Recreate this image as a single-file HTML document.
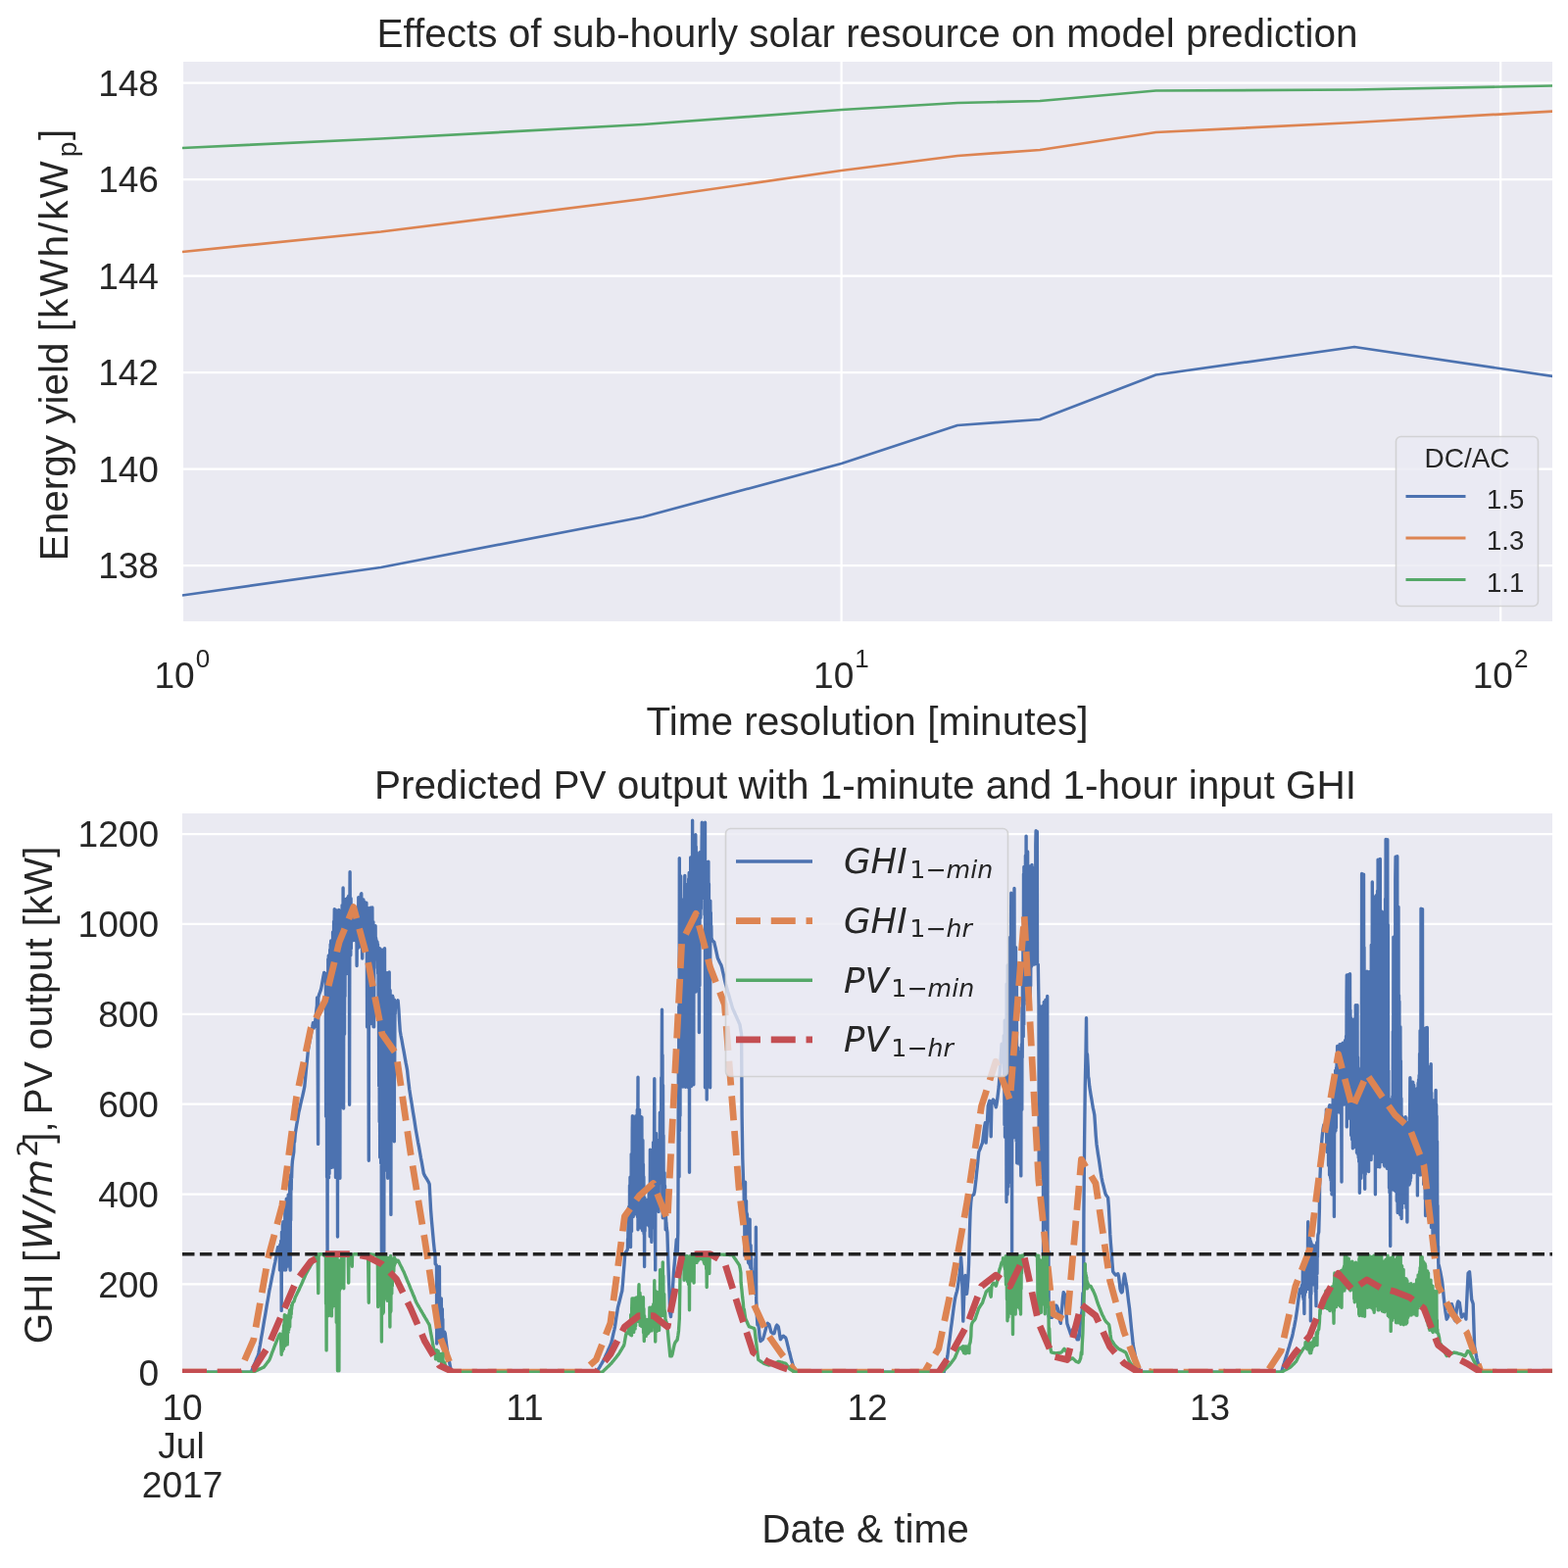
<!DOCTYPE html>
<html lang="en"><head><meta charset="utf-8"><title>Effects of sub-hourly solar resource on model prediction</title>
<style>html,body{margin:0;padding:0;background:#fff}body{width:1600px;height:1600px;overflow:hidden}svg{display:block;filter:blur(0.6px)}text{font-family:"Liberation Sans",sans-serif;fill:#262626}.m{font-family:"DejaVu Sans",sans-serif;font-style:italic}.r{font-family:"DejaVu Sans",sans-serif;font-style:normal}</style></head><body>
<svg width="1600" height="1600" viewBox="0 0 1600 1600">
<defs><clipPath id="ct"><rect x="186" y="63" width="1398" height="571"/></clipPath>
<clipPath id="cb"><rect x="186" y="830" width="1398" height="571"/></clipPath></defs>
<rect width="1600" height="1600" fill="#fff"/>
<rect x="186" y="63" width="1398" height="571" fill="#eaeaf2"/>
<g stroke="#fff" stroke-width="2.25" clip-path="url(#ct)">
<line x1="186" x2="1584" y1="577.00" y2="577.00"/>
<line x1="186" x2="1584" y1="478.50" y2="478.50"/>
<line x1="186" x2="1584" y1="380.00" y2="380.00"/>
<line x1="186" x2="1584" y1="281.50" y2="281.50"/>
<line x1="186" x2="1584" y1="183.00" y2="183.00"/>
<line x1="186" x2="1584" y1="84.50" y2="84.50"/>
<line x1="186.00" x2="186.00" y1="63" y2="634"/>
<line x1="858.60" x2="858.60" y1="63" y2="634"/>
<line x1="1531.20" x2="1531.20" y1="63" y2="634"/>
</g>
<g fill="none" stroke-width="2.7" stroke-linejoin="round" clip-path="url(#ct)">
<polyline stroke="#4c72b0" points="186.0,607.5 388.5,579.0 656.1,527.5 858.6,473.0 977.0,434.0 1061.1,428.0 1179.5,382.5 1382.0,354.0 1584.5,384.0"/>
<polyline stroke="#dd8452" points="186.0,257.0 388.5,236.5 656.1,203.0 858.6,174.0 977.0,159.0 1061.1,153.0 1179.5,135.0 1382.0,125.0 1584.5,113.5"/>
<polyline stroke="#55a868" points="186.0,151.0 388.5,141.5 656.1,127.0 858.6,112.0 977.0,105.0 1061.1,103.0 1179.5,92.5 1382.0,91.5 1584.5,87.5"/>
</g>
<g font-size="37.1" text-anchor="end">
<text transform="translate(162,590.4) scale(1,1)">138</text>
<text transform="translate(162,491.9) scale(1,1)">140</text>
<text transform="translate(162,393.4) scale(1,1)">142</text>
<text transform="translate(162,294.9) scale(1,1)">144</text>
<text transform="translate(162,196.4) scale(1,1)">146</text>
<text transform="translate(162,97.9) scale(1,1)">148</text>
</g>
<g font-size="37.1">
<text transform="translate(157.5,702) scale(1,1)">10<tspan dx="1" dy="-21" font-size="26">0</tspan></text>
<text transform="translate(830.1,702) scale(1,1)">10<tspan dx="1" dy="-21" font-size="26">1</tspan></text>
<text transform="translate(1502.7,702) scale(1,1)">10<tspan dx="1" dy="-21" font-size="26">2</tspan></text>
</g>
<text x="885" y="48" font-size="40.5" text-anchor="middle">Effects of sub-hourly solar resource on model prediction</text>
<text x="885" y="750.4" font-size="40.5" text-anchor="middle">Time resolution [minutes]</text>
<text transform="translate(68.5,572.3) rotate(-90)" font-size="40.5">Energy yield <tspan letter-spacing="2">[kWh/kW</tspan><tspan dx="2" dy="9" font-size="28.4" letter-spacing="1.5">p</tspan><tspan dy="-9">]</tspan></text>
<rect x="1424.5" y="445.5" width="145" height="173" rx="5" ry="5" fill="#eaeaf2" fill-opacity="0.8" stroke="#ccc" stroke-opacity="0.8" stroke-width="1.6"/>
<text x="1497" y="477.3" font-size="28" text-anchor="middle">DC/AC</text>
<line x1="1434.5" x2="1495.5" y1="506.5" y2="506.5" stroke="#4c72b0" stroke-width="3.1"/>
<text x="1517" y="518.5" font-size="27.5">1.5</text>
<line x1="1434.5" x2="1495.5" y1="549.0" y2="549.0" stroke="#dd8452" stroke-width="3.1"/>
<text x="1517" y="561.0" font-size="27.5">1.3</text>
<line x1="1434.5" x2="1495.5" y1="591.5" y2="591.5" stroke="#55a868" stroke-width="3.1"/>
<text x="1517" y="603.5" font-size="27.5">1.1</text>
<rect x="186" y="830" width="1398" height="571" fill="#eaeaf2"/>
<g stroke="#fff" stroke-width="2.25" clip-path="url(#cb)">
<line x1="186" x2="1584" y1="1310.42" y2="1310.42"/>
<line x1="186" x2="1584" y1="1218.54" y2="1218.54"/>
<line x1="186" x2="1584" y1="1126.66" y2="1126.66"/>
<line x1="186" x2="1584" y1="1034.78" y2="1034.78"/>
<line x1="186" x2="1584" y1="942.90" y2="942.90"/>
<line x1="186" x2="1584" y1="851.02" y2="851.02"/>
</g>
<g fill="none" stroke-linejoin="round" clip-path="url(#cb)">
<path d="M186.0,1400.2 255.9,1400.2 256.6,1399.3 257.4,1397.5 258.1,1395.7 258.8,1393.9 259.5,1392.2 260.3,1390.4 261.0,1388.6 261.7,1386.8 262.5,1385.0 263.2,1383.3 263.9,1380.9 264.6,1376.7 265.4,1372.5 266.1,1368.2 266.8,1364.0 267.6,1359.7 268.3,1355.5 269.0,1351.2 269.7,1347.0 270.5,1342.7 271.2,1338.5 271.9,1334.2 272.6,1330.0 273.4,1325.7 274.1,1321.5 274.8,1317.2 275.6,1313.5 276.3,1309.8 277.0,1306.2 277.7,1302.5 278.5,1298.9 279.2,1295.2 279.9,1291.6 280.7,1288.0 281.4,1284.3 282.1,1280.7 282.8,1276.8 283.6,1272.6 284.3,1273.7 285.0,1274.1 285.3,1272.8 285.5,1296.0 285.8,1270.0 286.0,1279.6 286.2,1274.5 286.5,1287.4 286.7,1266.1 287.0,1288.6 287.2,1337.4 287.5,1257.1 287.7,1289.5 287.9,1261.3 288.2,1279.0 288.4,1249.7 288.7,1293.4 288.9,1246.8 289.2,1275.9 289.4,1256.0 289.6,1295.9 289.9,1267.0 290.1,1263.8 290.4,1249.3 290.6,1282.1 290.9,1234.1 291.1,1296.0 291.3,1239.2 291.6,1295.9 291.8,1227.9 292.1,1293.5 292.3,1223.3 292.5,1286.4 292.8,1227.4 293.0,1262.9 293.3,1227.3 293.5,1276.1 293.8,1223.6 294.0,1273.8 294.2,1219.0 294.5,1291.9 294.7,1251.1 295.0,1241.8 295.2,1236.0 295.5,1267.7 295.7,1205.1 295.9,1292.9 296.2,1296.0 296.4,1198.9 296.7,1245.3 296.9,1202.8 297.2,1214.0 297.4,1197.3 297.6,1202.4 297.9,1191.9 298.1,1188.8 298.4,1184.8 299.1,1180.0 299.8,1175.6 300.1,1165.4 300.6,1165.2 301.3,1156.7 302.0,1152.3 302.7,1147.9 303.5,1143.6 304.2,1139.2 304.9,1134.8 305.7,1131.5 306.4,1128.4 307.1,1125.2 307.8,1122.1 308.6,1118.9 309.3,1115.8 310.0,1112.6 310.8,1108.7 311.5,1101.3 312.2,1093.9 312.9,1086.5 313.7,1079.1 314.4,1071.8 315.1,1067.7 315.8,1063.7 316.6,1059.7 317.3,1055.7 318.0,1051.6 318.8,1047.6 319.5,1043.6 320.2,1049.1 320.9,1045.1 321.2,1044.4 321.4,1042.3 321.7,1047.2 321.9,1039.8 322.2,1038.2 322.4,1034.8 323.1,1028.6 323.4,1026.6 323.6,1017.9 323.9,1022.5 324.6,1167.4 324.8,1018.2 325.6,1014.9 326.3,1013.0 327.0,1011.2 327.7,1008.7 328.5,1004.6 329.2,1000.6 329.9,996.5 330.7,992.5 331.4,998.0 332.1,994.0 332.4,993.4 332.6,1139.2 332.8,1032.7 333.1,1130.8 333.3,995.2 333.6,1201.3 333.8,995.6 334.1,1277.0 334.3,1083.4 334.5,1125.2 334.8,978.6 335.0,1194.0 335.3,975.0 335.5,1201.8 335.8,1044.3 336.0,1197.8 336.2,1004.5 336.5,1173.9 336.7,969.0 337.0,1125.4 337.2,963.6 337.4,1142.0 337.7,959.9 337.9,1176.2 338.2,960.6 338.4,1191.4 338.7,1069.8 338.9,1104.6 339.1,960.3 339.4,1082.3 339.6,951.0 339.9,1178.1 340.1,1037.0 340.4,1137.5 340.6,940.2 340.8,1046.6 341.1,941.7 341.3,927.6 341.6,1191.4 341.8,1011.8 342.1,1184.5 342.3,940.6 342.5,1201.4 342.8,928.7 343.0,1146.2 343.3,934.8 343.5,1142.4 343.8,944.8 344.0,1168.1 344.2,1052.4 344.5,1262.1 344.7,956.6 345.0,1147.2 345.2,1028.8 345.5,1196.7 345.7,928.5 345.9,1064.6 346.2,1017.2 346.4,1189.2 346.7,930.1 346.9,1202.2 347.2,981.5 347.4,1021.8 347.6,929.2 347.9,1019.5 348.1,1005.3 348.4,1086.0 348.6,943.5 348.9,1129.7 349.1,923.6 349.3,1015.0 349.6,927.4 349.8,1068.2 350.1,905.9 350.3,1122.5 350.6,1131.0 350.8,979.4 351.0,1053.9 351.3,920.7 351.5,1055.2 351.8,945.9 352.0,1016.8 352.3,917.8 352.5,978.9 352.7,944.0 353.0,975.9 353.2,918.8 353.5,954.2 353.7,917.3 354.0,993.5 354.2,918.5 354.4,984.2 354.7,915.9 354.9,992.1 355.2,921.0 355.4,978.1 355.7,914.3 355.9,987.1 356.1,943.9 356.4,945.3 356.6,1127.2 356.9,926.8 357.1,889.7 357.4,962.6 357.6,924.9 357.8,974.7 358.1,916.8 358.3,967.9 358.6,938.1 358.8,948.9 359.1,939.1 359.3,959.7 359.5,929.0 359.8,954.4 360.0,931.5 360.3,957.4 360.5,940.5 360.8,959.6 361.0,927.0 361.2,947.2 361.5,936.8 361.7,947.2 362.0,930.8 362.2,945.1 362.4,936.9 362.7,956.8 362.9,929.2 363.2,940.7 363.4,935.9 363.7,961.1 363.9,934.1 364.1,985.5 364.4,938.6 364.6,963.8 364.9,928.0 365.1,967.7 365.4,925.5 365.6,959.0 365.8,915.6 366.1,957.5 366.3,942.7 366.6,944.9 366.8,929.3 367.1,966.1 367.3,929.1 367.5,959.5 367.8,918.5 368.0,946.5 368.3,912.4 368.5,951.4 368.8,911.7 369.0,957.9 369.2,918.4 369.5,964.2 369.7,978.1 370.0,925.2 370.2,953.0 370.5,923.5 370.7,937.4 370.9,917.9 371.2,959.7 371.4,919.9 371.7,948.4 371.9,920.3 372.2,959.1 372.4,936.3 372.6,949.4 372.9,924.4 373.1,941.1 373.4,922.7 373.6,949.3 373.9,921.3 374.1,955.4 374.3,933.3 374.6,1047.9 374.8,936.9 375.1,950.4 375.3,926.4 375.6,1001.2 375.8,926.8 376.0,1046.5 376.3,1184.3 376.5,936.3 376.8,994.5 377.0,967.1 377.3,1009.8 377.5,979.4 377.7,1042.2 378.0,926.3 378.2,1032.9 378.5,930.6 378.7,1044.5 379.0,937.7 379.2,1019.7 379.4,943.4 379.7,1040.9 379.9,926.0 380.2,1000.0 380.4,990.2 380.7,1034.4 380.9,940.6 381.1,1047.8 381.4,983.1 381.6,1047.9 381.9,945.5 382.1,987.9 382.4,954.3 382.6,977.1 382.8,958.7 383.1,944.8 383.3,978.9 383.6,956.9 383.8,976.5 384.1,959.4 384.3,971.0 384.5,960.8 384.8,978.7 385.0,961.1 385.3,974.8 385.5,963.6 385.7,993.4 386.0,980.1 386.2,1037.3 386.5,1038.0 386.7,1108.3 387.0,967.7 387.2,1144.7 387.4,967.6 387.7,1181.1 387.9,989.2 388.2,1120.6 388.4,968.8 388.7,1187.0 388.9,979.7 389.1,1138.7 389.4,1277.2 389.6,1001.9 389.9,1177.3 390.1,1047.4 390.4,1231.3 390.6,1061.6 390.8,1124.6 391.1,969.0 391.3,1115.9 391.6,1048.9 391.8,1277.2 392.1,973.0 392.3,1195.2 392.5,967.8 392.8,1148.9 393.0,1070.0 393.3,1183.1 393.5,1015.5 393.8,1099.6 394.0,1052.2 394.2,1085.4 394.5,1008.6 394.7,1147.4 395.0,992.7 395.2,1135.8 395.5,1061.2 395.7,1202.2 395.9,1031.7 396.2,1116.7 396.4,998.7 396.7,1082.6 396.9,1077.4 397.2,992.0 397.4,1069.6 397.6,1023.4 397.9,1103.1 398.1,1010.4 398.4,1084.7 398.6,1063.7 398.9,1239.4 399.1,1018.0 399.3,1164.1 399.6,1026.6 399.8,1137.2 400.1,1059.2 400.3,1143.5 400.6,1016.2 400.8,1106.6 401.0,1017.4 401.3,1108.3 401.5,1020.3 401.8,1154.9 402.0,1063.4 402.3,1164.8 402.5,1020.3 402.7,1088.8 403.0,1025.8 403.2,1034.8 403.5,1024.7 403.7,1027.5 404.0,1023.9 404.2,1024.6 404.4,1021.9 404.7,1021.7 405.4,1024.3 406.1,1020.8 406.9,1030.5 407.6,1042.5 408.3,1052.3 409.0,1056.3 409.8,1060.3 410.5,1064.3 411.2,1068.3 412.0,1072.4 412.7,1076.4 413.4,1080.4 414.1,1084.4 414.9,1088.4 415.6,1092.4 416.3,1099.1 417.1,1105.9 417.8,1111.8 418.5,1116.3 419.2,1120.9 420.0,1125.4 420.7,1130.0 421.4,1134.5 422.2,1139.1 422.9,1143.6 423.6,1148.2 424.3,1152.7 425.1,1157.2 425.8,1161.3 426.5,1165.3 427.3,1169.3 428.0,1173.3 428.7,1177.3 429.4,1181.3 430.2,1185.3 430.9,1189.3 431.6,1193.3 432.3,1197.3 433.1,1199.1 433.8,1200.3 434.5,1201.5 435.3,1202.7 436.0,1203.9 436.7,1205.2 437.4,1206.4 438.2,1208.4 438.9,1221.5 439.6,1234.6 440.4,1245.0 441.1,1252.7 441.8,1260.4 442.5,1268.1 443.3,1275.8 444.0,1279.9 444.2,1289.7 445.0,1290.4 445.2,1290.7 445.5,1292.5 445.7,1371.0 445.9,1292.0 446.2,1320.4 446.4,1293.8 446.7,1331.8 446.9,1306.7 447.2,1358.1 447.4,1320.7 447.6,1356.3 447.9,1297.1 448.1,1364.5 448.4,1292.4 448.6,1341.6 448.9,1332.1 449.1,1369.4 449.3,1333.2 449.6,1339.5 449.8,1325.4 450.1,1361.2 450.3,1324.9 450.6,1363.4 450.8,1335.0 451.0,1362.6 451.3,1335.6 451.5,1352.7 451.8,1346.0 452.0,1364.5 452.3,1371.0 452.5,1358.7 452.7,1358.9 453.5,1358.9 454.2,1360.4 454.9,1366.2 455.6,1372.1 456.4,1377.9 457.1,1383.0 457.8,1386.6 458.6,1390.1 459.3,1393.7 460.0,1397.2 460.7,1400.2 608.6,1400.2 609.3,1399.3 610.0,1398.1 610.7,1396.8 611.5,1395.6 612.2,1394.4 612.9,1393.1 613.7,1391.9 614.4,1390.7 615.1,1389.4 615.8,1388.2 616.6,1386.8 617.3,1385.2 618.0,1383.5 618.7,1381.9 619.5,1380.2 620.2,1378.6 620.9,1377.0 621.7,1375.3 622.4,1373.7 623.1,1372.0 623.8,1370.2 624.6,1366.9 625.3,1363.6 626.0,1360.4 626.8,1357.1 627.5,1353.8 628.2,1349.0 628.9,1344.1 629.7,1339.3 630.4,1334.7 631.1,1331.7 631.9,1328.8 632.6,1325.9 633.3,1323.0 634.0,1320.1 634.8,1317.2 635.5,1309.6 636.2,1299.9 637.0,1290.2 637.7,1280.5 638.4,1277.6 639.1,1277.2 639.9,1275.9 640.1,1275.4 640.4,1274.2 640.6,1264.0 640.8,1268.2 641.1,1245.2 641.3,1266.8 641.6,1231.5 641.8,1243.2 642.0,1236.7 642.3,1269.4 642.5,1209.6 642.8,1271.1 643.0,1201.2 643.3,1237.3 643.5,1272.5 643.7,1215.7 644.0,1251.0 644.2,1177.6 644.5,1256.4 644.7,1180.8 645.0,1204.8 645.2,1153.6 645.4,1138.6 645.7,1209.6 645.9,1139.6 646.2,1241.6 646.4,1141.7 646.7,1211.2 646.9,1143.8 647.1,1232.1 647.4,1157.6 647.6,1239.1 647.9,1164.9 648.1,1238.9 648.4,1150.5 648.6,1235.9 648.8,1138.6 649.1,1222.4 649.3,1146.0 649.6,1231.0 649.8,1143.4 650.1,1223.7 650.3,1132.3 650.5,1241.7 650.8,1151.0 651.0,1099.2 651.0,1254.8 651.3,1217.9 651.5,1142.7 651.8,1196.7 652.0,1150.6 652.2,1198.5 652.5,1132.5 652.7,1213.7 653.0,1171.7 653.2,1194.8 653.5,1139.1 653.7,1248.3 653.9,1186.5 654.2,1253.0 654.4,1196.7 654.7,1200.9 654.9,1139.9 655.2,1254.4 655.4,1177.6 655.6,1255.7 655.9,1163.4 656.1,1224.0 656.4,1188.0 656.6,1236.0 656.9,1200.7 657.1,1259.2 657.3,1224.9 657.6,1292.6 657.8,1222.1 658.1,1256.2 658.3,1231.1 658.6,1238.1 658.8,1236.1 659.0,1249.5 659.3,1227.3 659.5,1240.9 659.8,1227.3 660.0,1242.5 660.3,1224.5 660.5,1249.7 660.7,1224.1 661.0,1249.7 661.2,1227.9 661.5,1245.6 661.7,1228.2 662.0,1249.6 662.2,1214.0 662.4,1251.3 662.7,1219.7 662.9,1219.8 663.2,1261.8 663.4,1173.1 663.6,1216.6 663.9,1176.7 664.1,1259.9 664.4,1213.7 664.6,1250.5 664.9,1267.4 665.1,1197.9 665.3,1253.2 665.6,1180.1 665.8,1243.0 666.1,1177.0 666.3,1236.1 666.6,1165.6 666.8,1227.1 667.0,1191.2 667.3,1253.0 667.5,1166.6 667.8,1100.8 668.0,1222.6 668.3,1164.6 668.5,1252.6 668.7,1295.9 669.0,1157.8 669.2,1234.3 669.5,1156.5 669.7,1203.4 670.0,1185.0 670.2,1217.9 670.4,1188.4 670.7,1221.3 670.9,1163.4 671.2,1221.9 671.4,1167.1 671.7,1191.6 671.9,1183.5 672.1,1236.5 672.4,1186.8 672.6,1207.8 672.9,1168.5 673.1,1196.8 673.4,1135.2 673.6,1182.1 673.8,1162.9 674.1,1201.6 674.3,1141.8 674.6,1189.0 674.8,1099.4 675.1,1190.6 675.3,1073.1 675.5,1030.2 675.8,1229.3 676.0,1076.5 676.3,1242.8 676.5,1107.2 676.8,1212.9 677.0,1158.5 677.2,1240.7 677.5,1206.5 677.7,1229.0 678.0,1196.6 678.2,1231.8 678.5,1210.0 678.7,1238.0 678.9,1219.3 679.2,1254.8 679.4,1240.0 679.7,1247.0 679.9,1247.5 680.2,1252.6 680.9,1257.4 681.6,1279.9 682.3,1300.9 683.1,1320.9 683.6,1339.9 683.8,1339.9 684.5,1343.6 685.3,1335.0 686.0,1322.8 686.7,1310.7 687.4,1298.6 688.2,1290.0 688.9,1281.7 689.6,1273.5 690.3,1264.6 691.1,1264.6 691.3,1277.2 691.6,1264.6 691.8,1258.0 692.0,1211.4 692.3,1092.9 692.5,1190.2 692.8,1027.0 693.0,1200.7 693.3,875.6 693.5,1153.9 693.7,923.5 694.0,1138.5 694.2,911.9 694.5,1108.9 694.7,893.9 695.0,1005.3 695.2,938.7 695.4,1080.0 695.7,1007.4 695.9,1072.5 696.2,1012.6 696.4,1062.8 696.7,980.4 696.9,1109.1 697.1,951.7 697.4,1043.2 697.6,917.6 697.9,1009.9 698.1,919.9 698.4,1084.1 698.6,917.1 698.8,893.4 699.1,1080.0 699.3,943.1 699.6,1109.3 699.8,992.9 700.1,1087.0 700.3,923.4 700.5,1063.4 700.8,907.8 701.0,1099.1 701.3,939.8 701.5,1068.9 701.8,902.1 702.0,1043.1 702.2,902.1 702.5,1109.7 702.7,896.7 703.0,1109.5 703.2,890.4 703.5,1196.3 703.7,949.2 703.9,1089.2 704.2,973.6 704.4,1032.3 704.7,874.9 704.9,968.4 705.2,974.9 705.4,1108.4 705.6,960.7 705.9,1079.8 706.1,881.0 706.4,960.8 706.6,837.2 706.9,1096.8 707.1,883.5 707.3,970.6 707.6,917.0 707.8,1106.8 708.1,874.3 708.3,931.1 708.6,906.8 708.8,980.4 709.0,855.2 709.3,978.4 709.5,872.9 709.8,851.7 710.0,1012.1 710.2,863.8 710.5,990.9 710.7,869.6 711.0,998.7 711.2,901.8 711.5,997.7 711.7,874.1 711.9,986.1 712.2,881.9 712.4,962.6 712.7,889.7 712.9,928.2 713.2,935.7 713.4,1053.5 713.6,908.6 713.9,1005.8 714.1,869.8 714.4,929.0 714.6,900.3 714.9,936.5 715.1,870.6 715.3,927.6 715.6,873.0 715.8,905.4 716.1,862.9 716.3,839.3 716.6,899.5 716.8,862.4 717.0,915.6 717.3,842.4 717.5,872.5 717.8,872.0 718.0,881.1 718.3,840.0 718.5,917.1 718.7,844.5 719.0,933.6 719.2,866.3 719.5,839.3 719.5,1109.8 719.7,1001.2 720.0,899.5 720.2,1046.2 720.4,879.3 720.7,1035.9 720.9,913.9 721.2,1122.1 721.4,925.2 721.7,1090.5 721.9,906.0 722.1,1103.6 722.4,893.6 722.6,1033.6 722.9,879.3 723.1,1018.9 723.4,901.8 723.6,1108.0 723.8,975.4 724.1,1063.8 724.3,973.2 724.6,1109.8 724.8,919.1 725.1,955.8 725.3,931.1 725.5,950.8 725.8,944.8 726.0,957.2 726.3,957.8 726.5,959.8 727.2,959.8 728.0,960.8 728.7,961.2 729.4,964.3 730.2,967.6 730.9,970.8 731.6,974.1 732.3,977.4 733.1,979.3 733.8,980.7 734.5,982.2 735.2,983.6 736.0,985.1 736.7,987.7 737.4,990.9 738.2,994.2 738.9,997.5 739.6,1000.8 740.3,1003.7 741.1,1006.3 741.8,1008.8 742.5,1011.4 743.3,1013.9 744.0,1016.5 744.7,1019.0 745.4,1021.5 746.2,1024.1 746.9,1026.6 747.6,1029.0 748.4,1030.7 749.1,1032.3 749.8,1034.0 750.5,1035.6 751.3,1037.2 752.0,1038.9 752.7,1040.5 753.5,1042.1 754.2,1043.8 754.9,1045.4 755.6,1049.6 756.4,1054.2 756.6,1056.5 757.1,1138.0 757.8,1182.5 758.5,1204.8 758.8,1213.1 759.0,1208.9 759.3,1225.9 759.5,1223.9 759.8,1251.9 760.0,1281.4 760.2,1215.2 760.5,1206.1 760.7,1278.7 761.0,1242.6 761.2,1280.4 761.5,1225.5 761.7,1271.9 761.9,1237.2 762.2,1269.8 762.4,1239.0 762.7,1269.0 762.9,1242.9 763.2,1285.9 763.4,1253.4 763.6,1288.5 763.9,1246.8 764.1,1276.1 764.4,1256.6 764.6,1289.8 764.9,1248.2 765.1,1244.2 765.3,1291.5 765.6,1270.2 765.8,1293.6 766.1,1270.6 766.3,1291.3 766.6,1282.7 766.8,1292.3 767.0,1294.5 767.3,1308.8 767.5,1300.5 767.8,1304.7 768.0,1300.4 768.3,1306.7 768.5,1298.1 768.7,1307.8 769.0,1302.8 769.2,1304.3 769.5,1298.0 769.7,1310.9 770.0,1298.6 770.2,1312.4 770.4,1298.9 770.7,1315.6 770.9,1284.4 771.2,1321.0 771.4,1252.2 771.7,1327.5 771.9,1330.3 772.1,1337.8 772.9,1352.0 773.1,1344.0 773.8,1350.9 774.6,1358.2 775.3,1365.5 776.0,1368.5 776.8,1368.0 777.5,1367.5 778.2,1367.0 778.9,1365.1 779.7,1362.5 780.4,1359.8 781.1,1357.2 781.8,1354.6 782.6,1352.0 783.3,1350.2 784.0,1350.9 784.8,1351.6 785.5,1353.8 786.2,1356.7 786.9,1359.4 787.7,1359.9 788.4,1360.4 789.1,1360.9 789.9,1360.7 790.6,1358.3 791.3,1355.8 792.0,1353.4 792.8,1352.1 793.5,1352.9 794.2,1353.6 795.0,1357.8 795.7,1362.9 796.4,1366.7 797.1,1365.7 797.9,1364.7 798.6,1363.7 799.3,1363.3 800.1,1363.8 800.8,1364.3 801.5,1364.8 802.2,1366.4 803.0,1369.4 803.7,1372.3 804.4,1375.2 805.1,1378.1 805.9,1381.0 806.6,1383.9 807.3,1386.8 808.1,1389.4 808.8,1391.9 809.5,1394.3 810.2,1396.8 811.0,1399.3 811.7,1400.2 962.4,1400.2 963.2,1400.1 963.9,1396.9 964.6,1393.7 965.3,1390.5 966.1,1387.3 966.8,1384.1 967.5,1378.6 968.2,1372.8 969.0,1366.9 969.7,1361.1 970.4,1355.3 971.2,1349.7 971.9,1344.3 972.6,1338.8 973.3,1333.3 974.1,1327.9 974.8,1323.9 975.5,1321.0 976.3,1318.1 977.0,1315.2 977.7,1310.7 978.4,1305.7 979.2,1300.6 979.9,1293.6 980.6,1283.2 981.4,1294.2 982.1,1321.1 982.8,1348.1 983.5,1328.5 984.3,1308.8 985.0,1301.5 985.7,1311.0 986.5,1320.4 987.2,1313.8 987.9,1304.4 988.6,1289.0 989.4,1257.8 990.1,1236.5 990.8,1226.5 991.5,1220.4 992.3,1219.9 993.0,1219.5 993.7,1219.0 994.5,1215.6 995.2,1209.7 995.9,1203.9 996.6,1196.7 997.4,1189.4 998.1,1182.1 998.8,1175.4 999.6,1173.6 1000.3,1171.8 1001.0,1170.0 1001.7,1168.1 1002.5,1166.3 1003.2,1160.7 1003.9,1154.8 1004.7,1149.0 1005.4,1145.7 1006.1,1166.1 1006.8,1157.0 1007.6,1141.0 1008.3,1128.2 1009.0,1125.8 1009.8,1123.3 1010.5,1131.1 1011.2,1159.7 1011.9,1124.9 1012.7,1123.4 1013.4,1122.0 1014.1,1122.5 1014.8,1124.9 1015.6,1127.3 1016.3,1129.8 1017.0,1126.8 1017.8,1120.8 1018.5,1114.8 1019.2,1108.8 1019.9,1098.7 1020.7,1087.6 1021.4,1076.4 1022.1,1065.3 1022.9,1077.9 1023.6,1066.8 1023.8,1067.2 1024.1,1084.5 1024.3,1056.6 1024.6,1097.6 1024.8,1083.0 1025.0,1147.7 1025.3,1041.3 1025.5,1160.3 1025.8,1055.4 1026.0,1157.4 1026.3,1101.4 1026.5,1149.0 1026.7,1073.0 1027.0,1226.6 1027.2,1004.0 1027.5,1173.0 1027.7,1062.7 1028.0,1218.9 1028.2,984.9 1028.4,1139.1 1028.7,1071.3 1028.9,1210.9 1029.2,1014.0 1029.4,1206.7 1029.7,1027.0 1029.9,1144.8 1030.1,956.7 1030.4,1202.0 1030.6,1019.5 1030.9,1165.2 1031.1,1013.5 1031.4,1183.5 1031.6,940.4 1031.8,911.3 1032.1,1044.4 1032.3,981.6 1032.6,1277.2 1032.8,949.3 1033.1,1158.2 1033.3,988.9 1033.5,1119.7 1033.8,1032.0 1034.0,1160.9 1034.3,1005.1 1034.5,1114.6 1034.8,1012.3 1035.0,906.5 1035.2,1081.7 1035.5,1010.0 1035.7,1059.6 1036.0,1043.9 1036.2,1124.4 1036.5,966.7 1036.7,1112.7 1036.9,1021.3 1037.2,1164.4 1037.4,1000.0 1037.7,1186.8 1037.9,1073.9 1038.1,1109.8 1038.4,1068.8 1038.6,1187.0 1038.9,1069.2 1039.1,1176.8 1039.4,1078.5 1039.6,1124.5 1039.8,1073.8 1040.1,1184.3 1040.3,1074.3 1040.6,1161.4 1040.8,1108.9 1041.1,1188.7 1041.3,1073.8 1041.5,1176.1 1041.8,1199.9 1042.0,1092.8 1042.3,1129.1 1042.5,1065.4 1042.8,1132.2 1043.0,1027.9 1043.2,1079.2 1043.5,984.6 1043.7,1035.5 1044.0,950.8 1044.2,1057.7 1044.5,891.7 1044.7,1045.4 1044.9,884.5 1045.2,987.1 1045.4,884.1 1045.7,1005.7 1045.9,925.7 1046.2,1011.2 1046.4,873.0 1046.6,954.0 1046.9,934.6 1047.1,853.1 1047.4,1019.9 1047.6,887.4 1047.9,938.8 1048.1,884.1 1048.3,1025.0 1048.6,868.9 1048.8,943.4 1049.1,922.4 1049.3,1013.3 1049.6,897.3 1049.8,1001.9 1050.0,884.2 1050.3,938.4 1050.5,910.2 1050.8,1026.8 1051.0,883.9 1051.3,1019.3 1051.5,895.9 1051.7,1006.0 1052.0,924.0 1052.2,969.4 1052.5,902.6 1052.7,986.0 1053.0,882.4 1053.2,977.7 1053.4,884.6 1053.7,937.4 1053.9,894.8 1054.2,959.0 1054.4,931.9 1054.7,979.7 1054.9,895.8 1055.1,982.7 1055.4,910.6 1055.6,984.1 1055.9,912.2 1056.1,935.6 1056.4,906.5 1056.6,983.6 1056.8,862.8 1057.1,847.8 1057.3,942.7 1057.6,850.7 1057.8,965.6 1058.1,865.0 1058.3,848.5 1058.5,984.1 1059.3,984.1 1060.0,1026.4 1060.2,1198.5 1060.7,1026.4 1061.0,1026.4 1061.2,1038.4 1061.4,1137.1 1061.7,1089.6 1061.9,1189.0 1062.2,1079.7 1062.4,1180.5 1062.7,1098.3 1062.9,1197.6 1063.1,1084.4 1063.4,1194.0 1063.6,1050.5 1063.9,1169.7 1064.1,1026.5 1064.4,1128.8 1064.6,1277.2 1064.8,1031.9 1065.1,1212.2 1065.3,1022.5 1065.6,1245.5 1065.8,1048.8 1066.1,1198.4 1066.3,1036.6 1066.5,1204.2 1066.8,1020.4 1067.0,1253.1 1067.3,1045.2 1067.5,1131.5 1067.8,1107.4 1068.0,1211.0 1068.2,1019.0 1068.5,1255.2 1068.7,1016.5 1069.0,1274.6 1069.2,1277.2 1069.9,1277.2 1070.2,1342.9 1070.7,1344.4 1073.6,1344.4 1074.3,1342.4 1075.0,1339.9 1075.8,1337.3 1076.5,1334.8 1077.2,1332.2 1078.0,1332.2 1078.7,1333.6 1079.4,1335.2 1080.1,1339.6 1080.9,1343.9 1081.6,1348.3 1082.3,1350.3 1083.0,1341.5 1083.8,1332.8 1084.5,1324.1 1085.2,1318.6 1086.0,1320.1 1086.7,1321.5 1087.4,1330.0 1088.1,1341.0 1088.9,1350.4 1089.6,1352.6 1090.3,1354.7 1091.1,1356.9 1091.8,1359.1 1092.5,1361.2 1093.2,1359.8 1094.0,1358.3 1094.7,1356.8 1095.4,1355.4 1096.2,1353.9 1096.9,1356.7 1097.6,1360.1 1098.3,1363.5 1099.1,1366.9 1100.5,1366.9 1101.3,1363.1 1102.0,1354.3 1102.7,1345.6 1103.4,1341.2 1104.2,1337.6 1104.9,1319.5 1105.6,1342.8 1105.9,1239.5 1106.6,1163.9 1107.3,1106.1 1108.0,1074.2 1108.5,1038.8 1108.8,1074.2 1109.5,1076.0 1110.2,1088.3 1110.5,1098.7 1111.0,1100.7 1111.7,1108.3 1112.4,1112.8 1113.1,1117.3 1113.9,1121.8 1114.6,1126.3 1115.3,1130.4 1116.1,1134.0 1116.8,1137.7 1117.5,1147.7 1118.2,1158.6 1119.0,1167.7 1119.7,1172.6 1120.4,1177.4 1121.2,1182.3 1121.9,1187.1 1122.6,1192.0 1123.3,1196.8 1124.1,1201.7 1124.8,1205.4 1125.5,1208.3 1126.3,1211.3 1127.0,1214.2 1127.7,1217.1 1128.4,1219.2 1129.2,1220.1 1129.9,1221.1 1130.6,1222.1 1131.3,1230.7 1132.1,1245.3 1132.8,1259.9 1133.5,1269.6 1134.3,1279.3 1135.0,1289.0 1135.7,1297.6 1136.4,1298.6 1137.2,1299.6 1137.9,1300.5 1138.6,1301.1 1139.4,1300.6 1140.1,1300.2 1140.8,1299.7 1141.5,1302.0 1142.3,1308.6 1143.0,1315.1 1143.7,1317.5 1144.5,1318.9 1145.2,1318.3 1145.9,1311.6 1146.6,1305.0 1147.4,1300.0 1148.1,1303.9 1148.8,1307.9 1149.6,1311.8 1150.3,1317.2 1151.0,1323.1 1151.7,1328.9 1152.5,1334.7 1153.2,1341.9 1153.9,1349.2 1154.6,1356.5 1155.4,1363.8 1156.1,1371.1 1156.8,1375.4 1157.6,1379.1 1158.3,1382.7 1159.0,1386.3 1159.7,1390.0 1160.5,1392.4 1161.2,1394.1 1161.9,1395.9 1162.7,1397.6 1163.4,1399.3 1164.1,1400.2 1306.8,1400.2 1307.6,1400.0 1308.3,1397.6 1309.0,1395.3 1309.7,1392.9 1310.5,1390.5 1311.2,1388.2 1311.9,1385.8 1312.7,1383.4 1313.4,1381.0 1314.1,1378.6 1314.8,1376.2 1315.6,1373.7 1316.3,1371.3 1317.0,1368.9 1317.7,1366.5 1318.5,1364.0 1319.2,1360.8 1319.9,1357.2 1320.7,1353.6 1321.4,1349.9 1322.1,1346.3 1322.8,1341.8 1323.6,1336.3 1324.3,1330.9 1325.0,1325.4 1325.8,1319.9 1326.5,1315.7 1327.2,1314.8 1327.7,1314.8 1327.9,1315.4 1328.2,1316.3 1328.4,1311.4 1328.7,1319.6 1328.9,1313.1 1329.2,1314.8 1329.4,1294.8 1329.6,1323.8 1329.9,1303.3 1330.1,1325.9 1330.4,1298.7 1330.6,1324.2 1330.9,1340.5 1331.1,1295.4 1331.3,1322.1 1331.6,1294.7 1331.8,1313.7 1332.1,1291.7 1332.3,1318.6 1332.6,1296.1 1332.8,1314.9 1333.0,1297.7 1333.3,1308.9 1333.5,1288.1 1333.8,1312.9 1334.0,1287.8 1334.3,1315.3 1334.5,1268.4 1334.7,1246.7 1335.0,1315.2 1335.2,1271.6 1335.5,1297.9 1335.7,1259.7 1336.0,1310.2 1336.2,1280.7 1336.4,1307.3 1336.7,1263.9 1336.9,1324.5 1337.2,1266.0 1337.4,1347.9 1337.7,1267.3 1337.9,1320.5 1338.1,1268.6 1338.4,1294.4 1338.6,1274.4 1338.9,1307.9 1339.1,1280.1 1339.3,1299.3 1339.6,1285.7 1339.8,1310.9 1340.1,1273.3 1340.3,1310.3 1340.6,1270.9 1340.8,1310.6 1341.0,1281.6 1341.3,1289.4 1341.5,1284.6 1341.8,1303.3 1342.0,1278.6 1342.3,1318.0 1342.5,1271.2 1342.7,1317.5 1343.0,1332.6 1343.2,1277.0 1343.5,1315.1 1343.7,1267.7 1344.0,1299.7 1344.2,1274.8 1344.4,1282.5 1344.7,1263.7 1344.9,1260.1 1345.7,1257.2 1346.4,1232.9 1346.6,1210.1 1347.1,1198.4 1347.8,1182.4 1348.6,1166.4 1349.3,1158.1 1350.0,1152.3 1350.8,1148.0 1351.5,1150.5 1352.2,1148.0 1352.5,1151.5 1352.7,1147.4 1352.9,1150.7 1353.2,1143.5 1353.4,1132.1 1353.7,1167.3 1353.9,1139.2 1354.2,1175.6 1354.4,1144.7 1354.6,1152.7 1354.9,1139.0 1355.1,1169.2 1355.4,1151.1 1355.6,1189.3 1355.9,1158.2 1356.1,1179.5 1356.3,1129.1 1356.6,1199.0 1356.8,1127.6 1357.1,1187.6 1357.3,1142.9 1357.6,1201.9 1357.8,1158.9 1358.0,1204.4 1358.3,1128.3 1358.5,1214.8 1358.8,1164.0 1359.0,1218.7 1359.3,1157.6 1359.5,1204.2 1359.7,1128.6 1360.0,1204.7 1360.2,1111.7 1360.5,1168.0 1360.7,1162.2 1361.0,1169.7 1361.2,1120.6 1361.4,1241.4 1361.7,1099.2 1361.9,1155.9 1362.2,1099.5 1362.4,1142.8 1362.7,1092.3 1362.9,1153.7 1363.1,1110.2 1363.4,1150.8 1363.6,1089.4 1363.9,1136.4 1364.1,1076.4 1364.3,1135.4 1364.6,1067.5 1364.8,1098.8 1365.1,1099.6 1365.3,1119.1 1365.6,1071.9 1365.8,1118.1 1366.0,1086.3 1366.3,1130.5 1366.5,1078.6 1366.8,1109.2 1367.0,1065.7 1367.3,1134.9 1367.5,1073.1 1367.7,1135.7 1368.0,1070.3 1368.2,1122.6 1368.5,1065.7 1368.7,1124.9 1369.0,1206.0 1369.2,1066.6 1369.4,1122.6 1369.7,1068.0 1369.9,1118.7 1370.2,1064.1 1370.4,1117.0 1370.7,1064.8 1370.9,1096.5 1371.1,1077.1 1371.4,1127.0 1371.6,1064.1 1371.9,1116.5 1372.1,1065.8 1372.4,1102.3 1372.6,1061.5 1372.8,1121.1 1373.1,1078.5 1373.3,1085.9 1373.6,1057.0 1373.8,1125.2 1374.1,1016.7 1374.3,994.9 1374.3,1149.9 1374.5,1117.1 1374.8,1057.9 1375.0,1122.3 1375.3,1016.6 1375.5,1131.9 1375.8,1058.3 1376.0,1141.1 1376.2,994.5 1376.5,1102.4 1376.7,1058.6 1377.0,1102.7 1377.2,1023.2 1377.5,993.8 1377.7,1107.8 1377.9,1030.5 1378.2,1132.1 1378.4,1038.4 1378.7,1158.5 1378.9,1051.2 1379.2,1142.8 1379.4,1049.2 1379.6,1162.7 1379.9,1069.6 1380.1,1143.7 1380.4,1171.7 1380.6,1043.2 1380.9,1161.4 1381.1,1049.8 1381.3,1166.4 1381.6,1039.9 1381.8,1105.9 1382.1,1101.5 1382.3,1136.9 1382.6,1087.7 1382.8,1158.9 1383.0,1078.7 1383.3,1025.7 1383.5,1170.8 1383.8,1069.0 1384.0,1147.3 1384.3,1088.2 1384.5,1176.2 1384.7,1075.1 1385.0,1025.8 1385.2,1177.3 1385.5,1078.8 1385.7,1122.3 1386.0,1089.8 1386.2,1181.3 1386.4,1118.3 1386.7,1185.4 1386.9,1119.3 1387.2,1158.9 1387.4,1217.2 1387.6,1146.6 1387.9,1194.4 1388.1,1124.4 1388.4,1185.2 1388.6,1119.2 1388.9,1202.2 1389.1,1152.7 1389.3,1197.5 1389.6,891.5 1389.8,1188.0 1390.1,1115.9 1390.3,1081.5 1390.6,967.5 1390.8,1194.6 1391.0,905.9 1391.3,1044.6 1391.5,892.1 1391.8,1075.5 1392.0,966.6 1392.3,1114.1 1392.5,1004.3 1392.7,1213.3 1393.0,1014.6 1393.2,1198.5 1393.5,1072.3 1393.7,1075.8 1394.0,995.1 1394.2,1148.6 1394.4,994.7 1394.7,1101.2 1394.9,991.1 1395.2,1194.1 1395.4,1044.6 1395.7,1182.1 1395.9,1072.9 1396.1,1100.9 1396.4,1041.7 1396.6,1195.5 1396.9,992.7 1397.1,1130.5 1397.4,1077.4 1397.6,1164.3 1397.8,991.5 1398.1,1181.8 1398.3,1000.2 1398.6,1128.0 1398.8,994.7 1399.1,1183.6 1399.3,964.3 1399.5,1120.6 1399.8,997.7 1400.0,1164.4 1400.3,900.0 1400.5,1116.3 1400.8,1021.9 1401.0,1132.8 1401.2,921.2 1401.5,1176.9 1401.7,1033.7 1402.0,1119.9 1402.2,924.8 1402.5,1129.5 1402.7,915.1 1402.9,1035.6 1403.2,941.6 1403.4,1218.7 1403.7,952.9 1403.9,1145.5 1404.2,913.6 1404.4,1132.1 1404.6,923.9 1404.9,1181.6 1405.1,999.8 1405.4,1190.5 1405.6,909.0 1405.9,1088.7 1406.1,877.1 1406.3,1180.0 1406.6,889.6 1406.8,1134.5 1407.1,885.7 1407.3,1044.0 1407.6,1038.3 1407.8,1190.9 1408.0,935.7 1408.3,876.5 1408.5,1096.2 1408.8,931.5 1409.0,1046.0 1409.2,946.2 1409.5,1185.6 1409.7,954.9 1410.0,1121.5 1410.2,930.1 1410.5,1119.1 1410.7,997.9 1410.9,1147.6 1411.2,947.9 1411.4,1072.6 1411.7,977.9 1411.9,1147.9 1412.2,1039.6 1412.4,1189.0 1412.6,997.8 1412.9,1190.0 1413.1,960.6 1413.4,1185.9 1413.6,917.3 1413.9,1082.4 1414.1,856.5 1414.3,1072.0 1414.6,964.5 1414.8,1189.0 1415.1,898.4 1415.3,1192.3 1415.6,915.8 1415.8,856.7 1416.0,1160.6 1416.3,943.4 1416.5,1163.0 1416.8,1092.3 1417.0,1190.5 1417.3,1153.0 1417.5,1212.2 1417.7,1121.5 1418.0,1216.9 1418.2,1132.5 1418.5,1208.7 1418.7,1271.6 1419.0,1130.2 1419.2,1213.2 1419.4,1150.2 1419.7,1213.7 1419.9,1158.9 1420.2,1195.8 1420.4,1134.2 1420.7,1178.6 1420.9,1118.6 1421.1,1212.5 1421.4,1052.5 1421.6,1213.8 1421.9,956.1 1422.1,1149.3 1422.4,966.2 1422.6,1201.9 1422.8,965.5 1423.1,1214.8 1423.3,1006.8 1423.6,1212.5 1423.8,897.7 1424.1,874.2 1424.3,1215.8 1424.5,957.5 1424.8,1079.0 1425.0,982.9 1425.3,1225.5 1425.5,904.3 1425.8,873.8 1426.0,1205.4 1426.2,1237.5 1426.5,932.4 1426.7,1059.5 1427.0,925.5 1427.2,1191.6 1427.5,1015.6 1427.7,1077.5 1427.9,1021.7 1428.2,1212.1 1428.4,1087.4 1428.7,1239.6 1428.9,1047.7 1429.2,1155.2 1429.4,1082.4 1429.6,1227.4 1429.9,1120.7 1430.1,1243.5 1430.4,1138.7 1430.6,1232.9 1430.9,1139.7 1431.1,1176.8 1431.3,1166.3 1431.6,1201.2 1431.8,1142.0 1432.1,1227.1 1432.3,1153.5 1432.5,1227.4 1432.8,1149.3 1433.0,1183.1 1433.3,1145.6 1433.5,1224.4 1433.8,1183.4 1434.0,1210.2 1434.2,1139.7 1434.5,1221.7 1434.7,1159.0 1435.0,1232.6 1435.2,1145.2 1435.5,1206.3 1435.7,1173.4 1435.9,1247.1 1436.2,1154.2 1436.4,1182.3 1436.7,1148.1 1436.9,1209.4 1437.2,1166.3 1437.4,1206.7 1437.6,1160.9 1437.9,1209.1 1438.1,1140.4 1438.4,1207.7 1438.6,1144.8 1438.9,1099.7 1439.1,1205.1 1439.3,1129.3 1439.6,1202.0 1439.8,1121.9 1440.1,1196.8 1440.3,1111.2 1440.6,1141.7 1440.8,1124.0 1441.0,1155.2 1441.3,1104.3 1441.5,1190.1 1441.8,1104.2 1442.0,1171.6 1442.3,1111.7 1442.5,1194.3 1442.7,1107.2 1443.0,1196.7 1443.2,1111.9 1443.5,1190.3 1443.7,1148.0 1444.0,1171.5 1444.2,1113.6 1444.4,1193.7 1444.7,1111.5 1444.9,1154.3 1445.2,1116.5 1445.4,1171.9 1445.7,1135.5 1445.9,1159.6 1446.1,1110.4 1446.4,1219.9 1446.6,1115.6 1446.9,1199.4 1447.1,1105.0 1447.4,1155.7 1447.6,1101.6 1447.8,1161.4 1448.1,1097.2 1448.3,1199.1 1448.6,1075.1 1448.8,1194.0 1449.1,1051.6 1449.3,1196.7 1449.5,1067.2 1449.8,1198.7 1450.0,927.1 1450.3,1185.3 1450.5,967.7 1450.8,1152.8 1451.0,937.8 1451.2,1118.6 1451.5,927.6 1451.7,1192.3 1452.0,1057.9 1452.2,1161.6 1452.5,1049.0 1452.7,1208.4 1452.9,1054.0 1453.2,1166.1 1453.4,1061.9 1453.7,1207.8 1453.9,1114.8 1454.2,1223.5 1454.4,1056.0 1454.6,1240.6 1454.9,1059.6 1455.1,1233.6 1455.4,1048.8 1455.6,1240.1 1455.8,1087.0 1456.1,1204.2 1456.3,1048.4 1456.6,1173.7 1456.8,1156.0 1457.1,1233.2 1457.3,1120.1 1457.5,1162.5 1457.8,1088.8 1458.0,1197.8 1458.3,1120.4 1458.5,1156.9 1458.8,1145.2 1459.0,1238.6 1459.2,1118.0 1459.5,1245.9 1459.7,1101.2 1460.0,1234.9 1460.2,1085.8 1460.5,1252.6 1460.7,1114.9 1460.9,1246.6 1461.2,1130.9 1461.4,1252.7 1461.7,1123.8 1461.9,1249.0 1462.2,1270.6 1462.4,1138.3 1462.6,1265.0 1462.9,1154.5 1463.1,1264.1 1463.4,1122.7 1463.6,1260.2 1463.9,1135.4 1464.1,1270.0 1464.3,1147.7 1464.6,1229.1 1464.8,1147.1 1465.1,1112.4 1465.3,1231.4 1465.6,1127.1 1465.8,1262.9 1466.0,1138.8 1466.3,1277.4 1466.5,1164.6 1466.8,1280.9 1467.0,1229.9 1467.3,1279.4 1467.5,1271.7 1467.7,1287.8 1468.0,1296.0 1468.2,1290.8 1469.0,1294.4 1469.7,1297.4 1470.4,1301.1 1471.1,1304.8 1471.9,1309.9 1472.6,1317.2 1473.3,1324.5 1474.1,1331.8 1474.8,1337.4 1475.5,1341.8 1476.2,1346.2 1477.0,1344.8 1477.7,1343.4 1478.4,1341.9 1479.2,1340.1 1479.9,1335.7 1480.6,1331.4 1481.3,1330.6 1482.1,1332.8 1482.8,1334.9 1483.5,1340.6 1484.2,1346.5 1485.0,1347.7 1485.7,1341.9 1486.4,1336.0 1487.2,1330.2 1487.9,1327.9 1488.6,1328.6 1489.3,1329.3 1490.1,1335.0 1490.8,1340.8 1491.5,1344.0 1492.3,1343.0 1493.0,1342.1 1493.7,1341.1 1494.4,1341.8 1495.2,1343.9 1495.9,1346.1 1496.6,1330.5 1497.4,1313.2 1498.1,1299.1 1498.8,1298.4 1499.5,1297.7 1500.3,1306.2 1501.0,1317.1 1501.7,1326.1 1502.5,1328.3 1503.2,1330.5 1503.9,1351.9 1504.6,1373.9 1505.4,1377.8 1506.1,1381.7 1506.8,1385.5 1507.5,1388.7 1508.3,1391.1 1509.0,1393.6 1509.7,1396.0 1510.5,1397.3 1511.2,1397.9 1511.9,1398.6 1512.6,1399.2 1513.4,1399.9 1514.1,1400.2 1583.3,1400.2 1584.0,1400.2" stroke="#4c72b0" stroke-width="3.375"/>
<path d="M186.0,1400.2 244.2,1400.2 258.8,1366.9 273.4,1284.4 287.9,1230.0 302.5,1119.4 317.1,1049.4 331.6,1021.2 346.2,961.2 360.8,925.6 375.3,980.0 389.9,1055.0 404.4,1075.6 419.0,1176.9 433.6,1266.0 448.1,1362.0 462.7,1400.2 558.1,1400.2" stroke="#dd8452" stroke-width="6.75" stroke-dasharray="24.97 10.80"/>
<path d="M558.1,1400.2 593.8,1400.2 608.3,1387.5 622.9,1350.0 637.4,1241.2 652.0,1220.6 666.6,1207.5 681.1,1245.0 695.7,961.2 710.2,932.2 724.8,987.5 739.4,1025.0 753.9,1211.2 768.5,1329.4 783.1,1361.2 797.6,1381.9 812.2,1400.2 917.8,1400.2" stroke="#dd8452" stroke-width="6.75" stroke-dasharray="24.97 10.80" stroke-dashoffset="24.97"/>
<path d="M917.8,1400.2 943.2,1400.2 957.8,1376.2 972.4,1306.9 986.9,1226.2 1001.5,1128.8 1016.1,1083.1 1030.6,1122.5 1045.2,935.0 1059.8,1203.8 1074.3,1340.6 1088.9,1348.1 1103.4,1183.1 1118.0,1207.5 1132.6,1306.9 1147.1,1359.4 1161.7,1396.9 1176.2,1400.2 1250.0,1400.2" stroke="#dd8452" stroke-width="6.75" stroke-dasharray="24.97 10.80" stroke-dashoffset="24.97"/>
<path d="M1250.0,1400.2 1292.8,1400.2 1307.3,1378.1 1321.9,1312.5 1336.4,1275.0 1351.0,1160.6 1365.6,1075.6 1380.1,1130.6 1394.7,1096.2 1409.2,1117.5 1423.8,1138.1 1438.4,1151.2 1452.9,1188.8 1467.5,1312.5 1482.1,1340.6 1496.6,1359.4 1511.2,1400.2 1584.0,1400.2" stroke="#dd8452" stroke-width="6.75" stroke-dasharray="24.97 10.80" stroke-dashoffset="24.97"/>
<path d="M186.0,1400.2 258.1,1400.2 258.8,1399.9 259.5,1399.5 260.3,1399.2 261.0,1398.9 261.7,1398.5 262.5,1398.2 263.2,1397.9 263.9,1397.5 264.6,1397.2 265.4,1396.9 266.1,1396.5 266.8,1396.2 267.6,1395.8 268.3,1395.5 269.0,1395.2 269.7,1394.5 270.5,1393.5 271.2,1392.6 271.9,1391.6 272.6,1390.6 273.4,1389.7 274.1,1388.7 274.8,1387.7 275.6,1386.0 276.3,1384.1 277.0,1382.1 277.7,1380.2 278.5,1378.2 279.2,1376.3 279.9,1374.4 280.7,1372.4 281.4,1370.6 282.1,1368.8 282.8,1367.0 283.6,1365.1 284.3,1363.3 285.0,1362.1 285.8,1361.0 286.5,1363.4 287.2,1382.2 287.5,1361.8 287.7,1362.9 287.9,1364.5 288.2,1365.0 288.4,1378.4 288.7,1360.7 288.9,1375.4 289.2,1357.6 289.4,1376.6 289.6,1352.3 289.9,1372.8 290.1,1349.9 290.4,1341.6 290.6,1370.9 290.9,1345.4 291.1,1373.3 291.3,1350.4 291.6,1369.2 291.8,1345.6 292.1,1361.7 292.3,1342.8 292.5,1369.7 292.8,1348.8 293.0,1361.6 293.3,1371.9 293.5,1344.6 293.8,1357.9 294.0,1349.7 294.2,1359.4 294.5,1344.1 294.7,1357.0 295.0,1340.2 295.2,1351.2 295.5,1336.9 295.7,1353.9 295.9,1337.0 296.2,1345.8 296.4,1336.5 296.7,1344.5 296.9,1335.2 297.2,1340.9 297.4,1332.2 297.6,1335.9 297.9,1332.0 298.1,1332.2 298.4,1330.2 298.6,1329.7 299.3,1328.6 300.1,1327.9 300.8,1325.3 301.5,1323.2 302.3,1321.7 303.0,1320.3 303.7,1318.8 304.4,1317.4 305.2,1315.9 305.9,1314.2 306.6,1312.6 307.4,1311.0 308.1,1309.3 308.8,1307.7 309.5,1306.0 310.3,1304.4 311.0,1302.8 311.7,1301.1 312.5,1299.5 313.2,1298.2 313.9,1296.9 314.6,1295.6 315.4,1294.4 316.1,1293.1 316.8,1291.8 317.5,1290.5 318.3,1289.3 319.0,1288.0 319.7,1286.7 320.5,1285.5 321.2,1284.3 321.9,1283.2 322.6,1282.0 323.4,1280.9 324.1,1279.9 324.8,1319.6 325.1,1282.0 325.8,1279.7 330.2,1279.7 330.9,1281.2 332.4,1281.2 332.6,1330.4 332.8,1284.0 333.1,1377.9 333.3,1292.0 333.6,1317.9 333.8,1284.6 334.1,1337.8 334.3,1283.8 334.5,1339.4 334.8,1299.8 335.0,1331.7 335.3,1283.2 335.5,1342.5 335.8,1300.1 336.0,1324.4 336.2,1302.4 336.5,1340.8 336.7,1290.4 337.0,1311.6 337.2,1292.0 337.4,1309.4 337.7,1282.0 337.9,1306.3 338.2,1281.3 338.4,1342.9 338.7,1285.9 338.9,1334.8 339.1,1298.4 339.4,1318.7 339.6,1306.0 339.9,1313.2 340.1,1304.8 340.4,1324.5 340.6,1306.8 340.8,1316.0 341.1,1284.3 341.3,1303.7 341.6,1284.9 341.8,1332.4 342.1,1281.3 342.3,1329.6 342.5,1282.3 342.8,1311.2 343.0,1311.3 343.3,1349.4 343.5,1281.6 343.8,1345.7 344.0,1282.4 344.2,1352.1 344.5,1398.7 344.7,1312.8 345.0,1377.9 345.2,1290.6 345.5,1337.7 345.7,1292.6 345.9,1398.7 346.2,1286.2 346.4,1317.2 346.7,1298.5 346.9,1305.8 347.2,1291.2 347.4,1315.0 347.6,1289.2 347.9,1300.9 348.1,1288.1 348.4,1313.6 348.6,1282.7 348.9,1311.4 349.1,1291.2 349.3,1308.5 349.6,1286.3 349.8,1301.0 350.1,1281.4 350.3,1306.7 350.6,1282.8 350.8,1314.8 351.0,1282.9 351.3,1282.6 351.5,1281.2 352.3,1281.2 353.0,1280.9 353.7,1280.1 354.4,1279.8 355.2,1280.1 355.7,1309.1 355.9,1281.2 357.4,1281.2 358.1,1280.2 358.8,1280.2 359.3,1292.3 359.5,1281.2 360.3,1280.0 361.0,1279.8 361.7,1279.7 374.8,1279.7 375.6,1280.0 376.3,1329.3 376.5,1281.2 377.3,1280.1 378.0,1279.7 378.7,1279.8 379.4,1280.0 380.2,1280.1 380.9,1280.2 381.6,1280.4 382.4,1280.5 383.1,1280.7 383.8,1280.8 384.5,1281.0 385.3,1282.5 385.7,1333.5 386.0,1282.5 386.2,1282.4 386.5,1289.6 386.7,1281.8 387.0,1318.1 387.2,1288.9 387.4,1331.8 387.7,1289.4 387.9,1326.5 388.2,1286.5 388.4,1317.3 388.7,1281.2 388.9,1329.0 389.1,1298.4 389.4,1369.1 389.6,1281.8 389.9,1319.5 390.1,1282.7 390.4,1335.9 390.6,1282.3 390.8,1340.2 391.1,1286.8 391.3,1339.3 391.6,1294.4 391.8,1326.1 392.1,1293.5 392.3,1323.7 392.5,1289.1 392.8,1323.6 393.0,1283.4 393.3,1307.0 393.5,1281.4 393.8,1307.9 394.0,1299.5 394.2,1322.8 394.5,1295.9 394.7,1316.6 395.0,1290.1 395.2,1327.3 395.5,1283.7 395.7,1326.3 395.9,1283.4 396.2,1302.9 396.4,1284.0 396.7,1325.4 396.9,1285.5 397.2,1310.4 397.4,1286.7 397.6,1323.4 397.9,1354.1 398.1,1283.1 398.4,1339.6 398.6,1281.4 398.9,1338.1 399.1,1283.1 399.3,1308.8 399.6,1286.7 399.8,1320.1 400.1,1284.9 400.3,1312.4 400.6,1286.0 400.8,1304.8 401.0,1290.4 401.3,1302.1 401.5,1288.7 401.8,1297.5 402.0,1288.8 402.3,1291.8 402.5,1283.2 402.7,1288.9 403.0,1284.4 403.2,1289.4 403.5,1285.1 403.7,1286.6 404.0,1286.4 404.7,1287.2 405.4,1286.2 406.1,1286.2 406.9,1287.5 407.6,1288.9 408.3,1290.4 409.0,1291.8 409.8,1293.3 410.5,1294.8 411.2,1296.2 412.0,1297.7 412.7,1299.5 413.4,1301.2 414.1,1303.0 414.9,1304.8 415.6,1306.6 416.3,1308.3 417.1,1310.1 417.8,1311.9 418.5,1313.6 419.2,1315.4 420.0,1317.2 420.7,1318.9 421.4,1320.7 422.2,1322.5 422.9,1324.2 423.6,1326.0 424.3,1327.8 425.1,1329.5 425.8,1330.7 426.5,1332.0 427.3,1333.2 428.0,1334.5 428.7,1335.7 429.4,1337.0 430.2,1338.2 430.9,1339.5 431.6,1340.7 432.3,1342.0 433.1,1343.2 433.8,1344.5 434.5,1345.7 435.3,1347.0 436.0,1348.2 436.7,1349.5 437.4,1350.7 438.2,1352.1 438.9,1356.1 439.6,1360.2 440.4,1364.2 441.1,1368.2 441.8,1372.2 442.5,1375.8 443.3,1377.8 444.2,1377.8 444.5,1386.7 444.7,1379.0 445.0,1383.5 445.2,1379.7 445.5,1385.8 445.7,1377.8 445.9,1382.2 446.2,1379.8 446.4,1387.1 446.7,1382.6 446.9,1383.1 447.2,1378.8 447.4,1388.2 447.6,1380.8 447.9,1388.6 448.1,1382.0 448.4,1387.9 448.6,1382.2 448.9,1387.8 449.1,1383.0 449.3,1386.0 449.6,1382.2 449.8,1387.9 450.1,1381.4 450.3,1389.7 450.6,1381.4 450.8,1386.3 451.0,1383.3 451.3,1389.2 451.5,1385.9 451.8,1381.2 452.0,1389.4 452.3,1389.6 453.0,1389.8 453.7,1390.7 454.4,1393.1 455.2,1395.1 455.9,1395.6 456.6,1396.1 457.3,1396.6 458.1,1397.1 458.8,1397.6 459.5,1398.1 460.3,1398.6 461.0,1399.2 461.7,1399.7 462.4,1400.2 463.2,1400.2 613.9,1400.2 614.6,1400.0 615.4,1399.3 616.1,1398.6 616.8,1397.9 617.5,1397.2 618.3,1396.5 619.0,1395.8 619.7,1395.1 620.4,1394.4 621.2,1393.7 621.9,1393.0 622.6,1392.3 623.4,1391.6 624.1,1390.8 624.8,1389.9 625.5,1389.0 626.3,1388.1 627.0,1387.2 627.7,1386.3 628.5,1385.4 629.2,1384.5 629.9,1383.5 630.6,1382.6 631.4,1381.7 632.1,1380.5 632.8,1379.2 633.6,1378.0 634.3,1376.8 635.0,1375.6 635.7,1374.4 636.5,1373.2 637.2,1370.6 637.9,1366.2 638.7,1361.8 639.4,1359.9 640.1,1359.9 640.6,1360.1 640.8,1359.2 641.1,1359.2 641.3,1356.5 641.6,1360.6 641.8,1354.9 642.0,1358.3 642.3,1355.0 642.5,1361.1 642.8,1352.7 643.0,1352.2 643.3,1352.4 643.5,1362.1 643.7,1341.5 644.0,1353.8 644.2,1345.5 644.5,1362.7 644.7,1335.3 645.0,1325.0 645.2,1352.1 645.4,1337.8 645.7,1356.0 645.9,1326.0 646.2,1358.2 646.4,1325.0 646.7,1359.4 646.9,1328.0 647.1,1345.9 647.4,1330.6 647.6,1355.6 647.9,1325.3 648.1,1356.0 648.4,1331.5 648.6,1352.9 648.8,1324.2 649.1,1342.6 649.3,1328.7 649.6,1337.0 649.8,1327.0 650.1,1345.8 650.3,1323.8 650.5,1345.3 650.8,1333.2 651.0,1332.7 651.3,1325.1 651.5,1348.5 651.8,1315.8 652.0,1310.8 652.2,1337.7 652.5,1320.8 652.7,1349.5 653.0,1319.2 653.2,1352.5 653.5,1322.5 653.7,1334.5 653.9,1329.9 654.2,1344.2 654.4,1329.5 654.7,1353.5 654.9,1324.2 655.2,1349.1 655.4,1325.3 655.6,1350.8 655.9,1330.8 656.1,1353.3 656.4,1323.7 656.6,1360.0 656.9,1335.3 657.1,1358.5 657.3,1368.5 657.6,1342.7 657.8,1359.7 658.1,1346.8 658.3,1361.6 658.6,1351.4 658.8,1360.8 659.0,1348.5 659.3,1363.4 659.5,1346.9 659.8,1353.2 660.0,1346.5 660.3,1361.5 660.5,1347.8 660.7,1358.8 661.0,1350.7 661.2,1360.2 661.5,1352.7 661.7,1360.3 662.0,1350.3 662.2,1357.0 662.4,1350.8 662.7,1358.8 662.9,1334.1 663.2,1352.8 663.4,1346.3 663.6,1351.7 663.9,1334.6 664.1,1345.9 664.4,1345.3 664.6,1357.8 664.9,1342.1 665.1,1357.9 665.3,1333.6 665.6,1348.6 665.8,1339.6 666.1,1344.2 666.3,1337.9 666.6,1353.8 666.8,1330.6 667.0,1352.2 667.3,1341.4 667.5,1349.6 667.8,1306.8 668.0,1340.2 668.3,1316.7 668.5,1344.9 668.7,1369.1 669.0,1328.4 669.2,1359.6 669.5,1331.4 669.7,1358.4 670.0,1318.1 670.2,1358.6 670.4,1326.2 670.7,1357.7 670.9,1336.6 671.2,1357.4 671.4,1330.0 671.7,1342.2 671.9,1323.2 672.1,1346.3 672.4,1326.7 672.6,1357.4 672.9,1318.1 673.1,1349.1 673.4,1318.8 673.6,1295.7 673.8,1343.2 674.1,1306.6 674.3,1337.4 674.6,1316.2 674.8,1338.1 675.1,1312.9 675.3,1342.7 675.5,1296.8 675.8,1329.7 676.0,1304.1 676.3,1287.9 676.5,1324.3 676.8,1301.7 677.0,1328.5 677.2,1320.7 677.5,1342.6 677.7,1320.4 678.0,1339.9 678.2,1336.8 678.5,1342.8 678.7,1339.5 678.9,1345.9 679.2,1346.5 679.4,1348.0 680.2,1349.6 680.9,1353.2 681.6,1360.5 682.3,1368.2 683.1,1376.2 683.8,1383.8 685.3,1383.8 686.0,1382.1 686.7,1378.7 687.4,1375.3 688.2,1371.9 688.9,1370.0 689.6,1369.0 690.3,1368.1 691.1,1367.1 691.8,1363.0 692.5,1357.9 693.3,1345.6 694.0,1301.9 694.7,1292.3 695.4,1286.4 696.2,1285.2 696.9,1281.2 697.1,1286.0 697.4,1284.1 697.6,1286.5 697.9,1284.1 698.1,1306.2 698.4,1285.4 698.6,1292.9 698.8,1289.0 699.1,1295.4 699.3,1282.1 699.6,1300.8 699.8,1289.7 700.1,1298.7 700.3,1292.7 700.5,1294.0 700.8,1281.4 701.0,1303.1 701.3,1282.9 701.5,1307.6 701.8,1284.7 702.0,1293.1 702.2,1289.7 702.5,1310.6 702.7,1282.1 703.0,1308.4 703.2,1292.4 703.5,1336.8 703.7,1284.0 703.9,1306.9 704.2,1285.1 704.4,1306.3 704.7,1281.2 704.9,1301.8 705.2,1294.0 705.4,1297.9 705.6,1288.3 705.9,1306.9 706.1,1285.3 706.4,1300.9 706.6,1288.7 706.9,1304.0 707.1,1281.2 707.3,1291.1 707.6,1281.8 707.8,1291.4 708.1,1309.1 708.3,1282.3 708.6,1285.8 708.8,1281.6 709.0,1288.5 709.3,1281.9 709.5,1287.5 709.8,1283.5 710.0,1287.8 710.2,1282.8 710.5,1287.9 710.7,1283.2 711.0,1288.4 711.2,1284.0 711.5,1284.6 711.7,1281.2 711.9,1285.3 712.2,1283.4 712.4,1286.2 712.7,1281.2 712.9,1285.3 713.2,1282.8 713.4,1285.1 713.6,1283.3 713.9,1283.1 714.1,1281.9 714.4,1283.0 714.6,1281.2 714.9,1284.6 715.1,1281.7 715.3,1284.2 715.6,1282.8 715.8,1283.9 716.1,1281.9 716.3,1284.0 716.6,1282.8 716.8,1284.5 717.0,1282.2 717.3,1284.5 717.5,1281.6 717.8,1286.4 718.0,1281.3 718.3,1288.3 718.5,1281.6 718.7,1289.3 719.0,1281.2 719.2,1289.8 719.5,1281.8 719.7,1286.8 720.0,1284.9 720.2,1290.7 720.4,1286.1 720.7,1294.9 720.9,1281.3 721.2,1313.5 721.4,1284.3 721.7,1298.5 721.9,1290.3 722.1,1298.1 722.4,1288.4 722.6,1298.1 722.9,1281.3 723.1,1293.5 723.4,1284.9 723.6,1294.6 723.8,1299.5 724.1,1284.1 724.3,1282.5 724.6,1281.2 725.3,1281.2 726.0,1280.9 726.8,1279.8 727.5,1279.7 728.2,1279.7 728.9,1279.8 729.7,1279.8 730.4,1279.8 731.1,1279.9 731.9,1279.9 732.6,1279.9 733.3,1280.0 734.0,1280.0 734.8,1280.0 735.5,1280.1 736.2,1280.1 736.9,1280.1 737.7,1280.2 738.4,1280.2 739.1,1280.2 739.9,1280.3 740.6,1280.3 741.3,1280.3 742.0,1280.4 742.8,1280.4 743.5,1280.4 744.2,1280.5 745.0,1280.5 745.7,1280.5 746.4,1280.6 747.1,1280.6 747.9,1281.2 748.6,1282.3 749.3,1283.4 750.1,1284.5 750.8,1285.5 751.5,1286.6 752.2,1287.7 753.0,1288.8 753.7,1289.9 754.4,1291.0 755.2,1294.3 755.9,1298.7 756.1,1308.7 756.9,1316.0 757.6,1323.3 758.3,1329.1 759.0,1340.0 759.3,1335.9 760.0,1341.0 760.7,1345.6 761.5,1347.2 762.2,1348.8 762.9,1350.5 763.6,1352.1 764.4,1353.7 765.1,1354.0 765.8,1354.2 766.6,1354.5 767.3,1354.7 768.0,1355.0 768.7,1355.2 769.5,1355.4 770.2,1357.4 770.9,1364.0 771.7,1370.5 772.4,1376.6 773.1,1382.4 773.8,1387.6 774.6,1388.0 775.3,1388.5 776.0,1389.0 776.8,1389.5 777.5,1390.0 778.2,1390.5 778.9,1391.0 779.7,1391.3 780.4,1391.6 781.1,1391.8 781.8,1392.1 782.6,1392.3 783.3,1392.6 784.0,1392.8 784.8,1393.0 785.5,1392.9 786.2,1392.6 786.9,1392.3 787.7,1392.1 788.4,1391.8 789.1,1391.5 789.9,1391.2 790.6,1390.9 791.3,1390.6 792.0,1390.3 792.8,1390.0 793.5,1389.7 794.2,1389.4 795.0,1389.5 795.7,1389.7 796.4,1389.9 797.1,1390.1 797.9,1390.2 798.6,1390.4 799.3,1390.6 800.1,1390.8 800.8,1391.0 801.5,1391.2 802.2,1391.8 803.0,1392.9 803.7,1394.0 804.4,1395.1 805.1,1396.2 805.9,1397.0 806.6,1397.5 807.3,1397.9 808.1,1398.3 808.8,1398.7 809.5,1399.2 810.2,1399.6 811.0,1400.0 811.7,1400.2 961.0,1400.2 961.7,1399.8 962.4,1399.1 963.2,1398.4 963.9,1397.7 964.6,1397.0 965.3,1396.3 966.1,1395.7 966.8,1395.0 967.5,1394.3 968.2,1393.6 969.0,1392.8 969.7,1391.9 970.4,1390.9 971.2,1389.9 971.9,1388.9 972.6,1388.0 973.3,1387.0 974.1,1386.0 974.8,1384.6 975.5,1382.7 976.3,1380.9 977.0,1379.1 977.7,1377.3 978.4,1376.1 979.2,1375.7 979.9,1375.4 980.6,1375.7 980.9,1375.4 981.1,1375.4 981.4,1375.3 981.6,1376.9 981.8,1374.3 982.1,1376.2 982.3,1373.9 982.6,1378.4 982.8,1373.6 983.1,1378.4 983.3,1375.7 983.5,1380.5 983.8,1374.1 984.0,1380.3 984.3,1376.1 984.5,1380.9 984.8,1373.9 985.0,1381.1 985.2,1374.0 985.5,1380.6 985.7,1376.7 986.0,1380.8 986.2,1373.9 986.5,1379.2 986.7,1374.3 986.9,1379.5 987.2,1375.8 987.4,1379.8 987.7,1375.3 987.9,1378.7 988.2,1375.1 988.4,1375.8 988.6,1373.8 988.9,1380.6 989.1,1372.2 989.4,1371.7 990.1,1369.5 990.8,1363.6 991.1,1354.3 991.5,1351.3 992.3,1349.3 993.0,1348.5 993.7,1347.7 994.5,1346.8 995.2,1345.7 995.9,1343.5 996.6,1341.3 997.4,1339.1 998.1,1336.9 998.8,1334.9 999.6,1333.8 1000.3,1332.7 1001.0,1331.6 1001.7,1330.5 1002.5,1329.4 1003.2,1327.3 1003.9,1325.1 1004.7,1322.9 1005.4,1320.7 1006.1,1318.5 1006.8,1317.5 1007.6,1316.8 1008.3,1316.1 1009.0,1315.4 1009.8,1314.6 1010.5,1321.1 1011.2,1323.2 1011.9,1312.4 1012.7,1310.9 1013.4,1309.5 1014.1,1309.2 1014.8,1310.2 1015.6,1311.2 1016.3,1312.2 1017.0,1310.0 1017.8,1306.1 1018.5,1302.2 1019.2,1298.3 1019.9,1295.6 1020.7,1293.2 1021.4,1290.7 1022.1,1288.3 1022.9,1289.1 1023.6,1283.8 1023.8,1288.8 1024.1,1289.6 1024.3,1287.3 1024.6,1290.5 1024.8,1287.8 1025.0,1292.8 1025.3,1289.3 1025.5,1294.9 1025.8,1285.9 1026.0,1302.5 1026.3,1281.6 1026.5,1310.8 1026.7,1291.3 1027.0,1302.4 1027.2,1298.0 1027.5,1326.1 1027.7,1282.6 1028.0,1347.7 1028.2,1306.0 1028.4,1328.8 1028.7,1282.4 1028.9,1344.1 1029.2,1305.2 1029.4,1330.5 1029.7,1281.6 1029.9,1306.1 1030.1,1291.5 1030.4,1320.3 1030.6,1300.6 1030.9,1338.6 1031.1,1289.3 1031.4,1339.9 1031.6,1292.4 1031.8,1334.2 1032.1,1299.9 1032.3,1340.5 1032.6,1282.5 1032.8,1335.6 1033.1,1281.2 1033.3,1335.1 1033.5,1361.6 1033.8,1308.9 1034.0,1314.1 1034.3,1282.2 1034.5,1316.2 1034.8,1282.7 1035.0,1338.2 1035.2,1293.0 1035.5,1335.3 1035.7,1282.3 1036.0,1336.1 1036.2,1341.0 1036.5,1282.0 1036.7,1332.4 1036.9,1303.0 1037.2,1333.5 1037.4,1288.8 1037.7,1332.1 1037.9,1294.8 1038.1,1333.6 1038.4,1284.8 1038.6,1316.5 1038.9,1281.2 1039.1,1328.2 1039.4,1284.0 1039.6,1326.2 1039.8,1291.7 1040.1,1334.7 1040.3,1301.6 1040.6,1333.7 1040.8,1297.8 1041.1,1336.9 1041.3,1281.4 1041.5,1341.0 1041.8,1282.0 1042.0,1315.2 1042.3,1282.0 1042.5,1299.3 1042.8,1281.2 1043.0,1284.4 1043.2,1281.2 1044.0,1281.2 1044.7,1281.1 1045.4,1280.0 1046.2,1279.7 1056.4,1279.7 1057.1,1281.2 1058.3,1281.2 1058.5,1282.5 1058.8,1301.1 1059.0,1336.7 1059.3,1287.9 1059.5,1313.3 1059.8,1281.2 1060.0,1335.4 1060.2,1293.4 1060.5,1336.7 1060.7,1288.4 1061.0,1324.7 1061.2,1301.9 1061.4,1339.3 1061.7,1285.9 1061.9,1336.2 1062.2,1291.0 1062.4,1339.3 1062.7,1297.7 1062.9,1307.3 1063.1,1289.9 1063.4,1323.7 1063.6,1301.4 1063.9,1314.4 1064.1,1300.6 1064.4,1330.9 1064.6,1281.4 1064.8,1317.2 1065.1,1301.8 1065.3,1321.8 1065.6,1284.0 1065.8,1305.1 1066.1,1291.8 1066.3,1340.8 1066.5,1283.8 1066.8,1314.1 1067.0,1282.5 1067.3,1331.7 1067.5,1302.6 1067.8,1333.4 1068.0,1301.0 1068.2,1328.9 1068.5,1281.2 1068.7,1328.6 1069.0,1324.6 1069.2,1333.5 1069.9,1333.5 1070.4,1371.0 1070.7,1355.5 1071.4,1373.7 1072.1,1377.0 1072.9,1380.0 1073.6,1380.2 1074.3,1380.3 1075.0,1380.4 1075.8,1380.6 1076.5,1380.7 1077.2,1380.9 1078.0,1380.9 1078.7,1380.7 1079.4,1380.6 1080.1,1380.5 1080.9,1380.4 1081.6,1380.3 1082.3,1380.1 1083.0,1380.0 1083.8,1379.1 1084.5,1378.2 1085.2,1377.2 1086.0,1376.3 1086.7,1377.3 1087.4,1378.2 1088.1,1379.2 1088.9,1380.3 1089.6,1382.3 1090.3,1384.2 1091.1,1386.2 1091.8,1387.4 1092.5,1386.9 1093.2,1386.4 1094.0,1385.9 1094.7,1386.0 1095.4,1386.7 1096.2,1387.4 1096.9,1388.1 1097.6,1388.9 1098.3,1389.4 1099.1,1389.7 1099.8,1389.9 1100.5,1390.2 1101.3,1389.5 1102.0,1387.7 1102.7,1385.9 1103.4,1379.7 1103.9,1381.9 1104.2,1372.8 1104.9,1360.6 1105.6,1335.1 1106.3,1317.3 1106.8,1314.8 1107.1,1311.9 1107.3,1289.8 1107.6,1314.2 1107.8,1298.5 1108.0,1312.4 1108.3,1301.2 1108.5,1313.4 1108.8,1303.4 1109.0,1314.7 1109.3,1307.2 1109.5,1314.7 1109.7,1308.4 1110.0,1313.9 1110.2,1309.7 1110.5,1312.2 1110.7,1311.9 1111.0,1312.4 1111.2,1311.9 1111.9,1311.9 1112.7,1312.3 1113.4,1313.0 1114.1,1314.5 1114.8,1315.9 1115.6,1317.4 1116.3,1318.9 1117.0,1320.5 1117.8,1322.6 1118.5,1324.8 1119.2,1327.0 1119.9,1329.2 1120.7,1331.4 1121.4,1333.2 1122.1,1335.0 1122.9,1336.8 1123.6,1338.6 1124.3,1340.5 1125.0,1342.0 1125.8,1343.4 1126.5,1344.9 1127.2,1346.3 1128.0,1347.8 1128.7,1348.7 1129.4,1349.4 1130.1,1350.1 1130.9,1350.9 1131.6,1351.6 1132.3,1355.4 1133.0,1361.3 1133.8,1366.9 1134.5,1368.0 1135.2,1369.1 1136.0,1370.2 1136.7,1371.3 1137.4,1372.4 1138.1,1373.1 1138.9,1373.9 1139.6,1374.6 1140.3,1375.3 1141.1,1376.1 1141.8,1376.5 1142.5,1376.9 1143.2,1377.2 1144.0,1377.6 1144.7,1378.0 1145.4,1378.3 1146.2,1378.7 1146.9,1379.1 1147.6,1379.4 1148.3,1379.8 1149.1,1380.8 1149.8,1382.6 1150.5,1384.4 1151.3,1386.3 1152.0,1388.1 1152.7,1389.7 1153.4,1390.8 1154.2,1391.9 1154.9,1393.0 1155.6,1394.1 1156.3,1395.1 1157.1,1395.8 1157.8,1396.4 1158.5,1397.1 1159.3,1397.8 1160.0,1398.5 1160.7,1399.1 1161.4,1399.8 1162.2,1400.2 1307.1,1400.2 1307.8,1400.0 1308.5,1399.6 1309.3,1399.2 1310.0,1398.8 1310.7,1398.4 1311.4,1398.0 1312.2,1397.6 1312.9,1397.2 1313.6,1396.8 1314.4,1396.4 1315.1,1396.0 1315.8,1395.6 1316.5,1395.2 1317.3,1394.6 1318.0,1393.9 1318.7,1393.2 1319.4,1392.4 1320.2,1391.7 1320.9,1391.0 1321.6,1390.2 1322.4,1389.5 1323.1,1388.2 1323.8,1386.7 1324.5,1385.3 1325.3,1383.8 1326.0,1382.4 1326.7,1381.2 1327.5,1380.1 1328.2,1379.0 1328.9,1377.9 1329.6,1376.8 1330.4,1375.7 1331.1,1374.9 1331.8,1375.1 1332.1,1369.7 1332.3,1375.1 1332.6,1373.4 1332.8,1374.9 1333.0,1371.4 1333.3,1374.5 1333.5,1372.8 1333.8,1376.7 1334.0,1368.3 1334.3,1376.9 1334.5,1371.6 1334.7,1374.5 1335.0,1368.8 1335.2,1373.9 1335.5,1372.0 1335.7,1374.0 1336.0,1374.6 1336.2,1379.8 1336.4,1372.8 1336.7,1380.7 1336.9,1370.3 1337.2,1379.5 1337.4,1370.4 1337.7,1380.6 1337.9,1370.8 1338.1,1378.7 1338.4,1374.0 1338.6,1377.2 1338.9,1371.4 1339.1,1375.5 1339.3,1369.4 1339.6,1373.8 1339.8,1370.5 1340.1,1372.7 1340.3,1367.8 1340.6,1373.8 1340.8,1365.7 1341.0,1373.5 1341.3,1366.5 1341.5,1368.5 1341.8,1367.4 1342.0,1372.5 1342.3,1365.1 1342.5,1367.6 1342.7,1366.1 1343.0,1368.7 1343.2,1360.7 1343.5,1365.9 1343.7,1359.4 1344.0,1372.6 1344.2,1359.6 1344.4,1361.5 1344.7,1358.5 1344.9,1357.5 1345.7,1356.4 1346.4,1349.2 1346.9,1336.5 1347.1,1341.0 1347.8,1331.2 1348.6,1329.0 1349.3,1326.8 1350.0,1327.3 1350.8,1328.3 1351.5,1334.4 1351.7,1327.7 1352.0,1332.3 1352.2,1326.6 1352.5,1333.9 1352.7,1326.9 1352.9,1317.3 1353.2,1329.8 1353.4,1321.4 1353.7,1334.6 1353.9,1320.7 1354.2,1335.2 1354.4,1319.9 1354.6,1334.7 1354.9,1317.8 1355.1,1330.8 1355.4,1317.0 1355.6,1335.7 1355.9,1319.3 1356.1,1325.9 1356.3,1315.6 1356.6,1337.1 1356.8,1315.8 1357.1,1337.6 1357.3,1317.4 1357.6,1329.5 1357.8,1314.3 1358.0,1332.2 1358.3,1316.0 1358.5,1335.8 1358.8,1316.6 1359.0,1335.6 1359.3,1312.9 1359.5,1335.8 1359.7,1314.4 1360.0,1331.9 1360.2,1316.8 1360.5,1339.4 1360.7,1325.2 1361.0,1350.3 1361.2,1309.4 1361.4,1337.8 1361.7,1308.1 1361.9,1299.0 1362.2,1326.4 1362.4,1306.5 1362.7,1324.2 1362.9,1302.6 1363.1,1331.9 1363.4,1305.7 1363.6,1333.6 1363.9,1302.2 1364.1,1312.9 1364.3,1308.2 1364.6,1330.5 1364.8,1313.3 1365.1,1326.9 1365.3,1310.3 1365.6,1331.4 1365.8,1301.1 1366.0,1323.7 1366.3,1308.7 1366.5,1324.2 1366.8,1298.2 1367.0,1331.3 1367.3,1299.4 1367.5,1333.1 1367.7,1297.3 1368.0,1321.0 1368.2,1297.1 1368.5,1328.2 1368.7,1296.4 1369.0,1334.3 1369.2,1303.8 1369.4,1318.8 1369.7,1295.9 1369.9,1308.3 1370.2,1308.6 1370.4,1312.0 1370.7,1303.0 1370.9,1311.3 1371.1,1293.7 1371.4,1316.5 1371.6,1292.0 1371.9,1317.0 1372.1,1294.5 1372.4,1281.2 1372.6,1309.8 1372.8,1287.2 1373.1,1304.8 1373.3,1283.6 1373.6,1313.2 1373.8,1281.4 1374.1,1313.7 1374.3,1293.4 1374.5,1310.0 1374.8,1290.3 1375.0,1299.6 1375.3,1288.7 1375.5,1312.2 1375.8,1296.9 1376.0,1314.7 1376.2,1284.1 1376.5,1299.0 1376.7,1289.2 1377.0,1313.4 1377.2,1293.3 1377.5,1305.0 1377.7,1291.5 1377.9,1316.9 1378.2,1291.7 1378.4,1310.5 1378.7,1297.2 1378.9,1315.3 1379.2,1301.2 1379.4,1310.9 1379.6,1287.1 1379.9,1315.9 1380.1,1287.5 1380.4,1316.0 1380.6,1289.3 1380.9,1303.1 1381.1,1289.9 1381.3,1312.6 1381.6,1301.8 1381.8,1325.5 1382.1,1294.9 1382.3,1328.8 1382.6,1290.7 1382.8,1326.1 1383.0,1298.8 1383.3,1325.3 1383.5,1288.2 1383.8,1321.6 1384.0,1293.8 1384.3,1326.6 1384.5,1291.5 1384.7,1313.5 1385.0,1296.6 1385.2,1323.6 1385.5,1291.4 1385.7,1333.5 1386.0,1288.9 1386.2,1324.5 1386.4,1288.9 1386.7,1341.2 1386.9,1284.4 1387.2,1342.6 1387.4,1282.5 1387.6,1339.2 1387.9,1286.4 1388.1,1335.7 1388.4,1282.7 1388.6,1340.9 1388.9,1287.4 1389.1,1339.8 1389.3,1283.3 1389.6,1334.0 1389.8,1299.2 1390.1,1342.8 1390.3,1281.2 1390.6,1335.5 1390.8,1305.9 1391.0,1328.1 1391.3,1285.3 1391.5,1307.9 1391.8,1295.4 1392.0,1317.8 1392.3,1303.2 1392.5,1343.3 1392.7,1282.4 1393.0,1319.6 1393.2,1285.8 1393.5,1312.0 1393.7,1281.3 1394.0,1308.8 1394.2,1292.3 1394.4,1332.5 1394.7,1300.6 1394.9,1327.3 1395.2,1287.0 1395.4,1334.3 1395.7,1297.6 1395.9,1333.3 1396.1,1283.6 1396.4,1333.5 1396.6,1281.2 1396.9,1331.0 1397.1,1281.2 1397.4,1326.8 1397.6,1284.3 1397.8,1333.7 1398.1,1286.8 1398.3,1331.1 1398.6,1282.6 1398.8,1324.5 1399.1,1284.1 1399.3,1334.2 1399.5,1304.4 1399.8,1304.7 1400.0,1282.7 1400.3,1322.1 1400.5,1290.8 1400.8,1335.6 1401.0,1289.5 1401.2,1336.4 1401.5,1283.4 1401.7,1332.7 1402.0,1281.2 1402.2,1339.2 1402.5,1310.5 1402.7,1320.5 1402.9,1284.6 1403.2,1306.1 1403.4,1284.5 1403.7,1315.4 1403.9,1284.3 1404.2,1312.0 1404.4,1287.2 1404.6,1312.7 1404.9,1281.7 1405.1,1332.7 1405.4,1284.5 1405.6,1316.7 1405.9,1302.2 1406.1,1336.7 1406.3,1285.9 1406.6,1336.3 1406.8,1281.3 1407.1,1336.7 1407.3,1281.3 1407.6,1334.2 1407.8,1286.4 1408.0,1309.8 1408.3,1293.1 1408.5,1317.8 1408.8,1284.3 1409.0,1334.0 1409.2,1286.0 1409.5,1335.8 1409.7,1281.2 1410.0,1335.2 1410.2,1305.6 1410.5,1337.9 1410.7,1288.4 1410.9,1336.3 1411.2,1297.8 1411.4,1338.2 1411.7,1288.6 1411.9,1320.4 1412.2,1287.3 1412.4,1337.9 1412.6,1303.9 1412.9,1338.8 1413.1,1305.9 1413.4,1315.7 1413.6,1303.8 1413.9,1313.1 1414.1,1285.2 1414.3,1325.9 1414.6,1287.7 1414.8,1328.3 1415.1,1285.5 1415.3,1314.9 1415.6,1284.0 1415.8,1330.4 1416.0,1281.3 1416.3,1342.5 1416.5,1305.4 1416.8,1338.6 1417.0,1285.6 1417.3,1307.4 1417.5,1297.7 1417.7,1343.9 1418.0,1290.6 1418.2,1336.5 1418.5,1293.0 1418.7,1343.4 1419.0,1283.7 1419.2,1358.4 1419.4,1310.7 1419.7,1333.6 1419.9,1291.3 1420.2,1329.2 1420.4,1300.2 1420.7,1347.2 1420.9,1301.8 1421.1,1339.1 1421.4,1281.9 1421.6,1344.5 1421.9,1314.2 1422.1,1319.7 1422.4,1308.7 1422.6,1338.4 1422.8,1294.8 1423.1,1342.2 1423.3,1299.4 1423.6,1337.1 1423.8,1285.5 1424.1,1310.2 1424.3,1289.8 1424.5,1349.6 1424.8,1304.0 1425.0,1349.8 1425.3,1283.9 1425.5,1342.1 1425.8,1282.7 1426.0,1342.7 1426.2,1288.0 1426.5,1339.8 1426.7,1296.2 1427.0,1332.1 1427.2,1281.3 1427.5,1349.9 1427.7,1281.7 1427.9,1347.5 1428.2,1289.7 1428.4,1322.3 1428.7,1284.6 1428.9,1326.0 1429.2,1281.2 1429.4,1351.3 1429.6,1306.3 1429.9,1325.3 1430.1,1320.5 1430.4,1340.1 1430.6,1291.8 1430.9,1349.3 1431.1,1298.5 1431.3,1336.2 1431.6,1321.4 1431.8,1325.7 1432.1,1295.4 1432.3,1351.7 1432.5,1308.3 1432.8,1350.9 1433.0,1307.0 1433.3,1344.1 1433.5,1306.9 1433.8,1348.9 1434.0,1322.1 1434.2,1350.0 1434.5,1304.8 1434.7,1351.0 1435.0,1304.9 1435.2,1350.3 1435.5,1313.6 1435.7,1349.8 1435.9,1306.7 1436.2,1332.1 1436.4,1321.7 1436.7,1344.4 1436.9,1318.0 1437.2,1330.6 1437.4,1316.1 1437.6,1336.1 1437.9,1318.8 1438.1,1341.8 1438.4,1310.8 1438.6,1342.1 1438.9,1310.1 1439.1,1337.6 1439.3,1314.2 1439.6,1341.7 1439.8,1309.8 1440.1,1342.0 1440.3,1310.6 1440.6,1341.0 1440.8,1316.1 1441.0,1328.8 1441.3,1314.6 1441.5,1333.3 1441.8,1313.0 1442.0,1340.9 1442.3,1318.8 1442.5,1330.2 1442.7,1310.6 1443.0,1339.2 1443.2,1317.4 1443.5,1331.8 1443.7,1310.7 1444.0,1338.2 1444.2,1311.9 1444.4,1335.8 1444.7,1319.5 1444.9,1342.0 1445.2,1309.2 1445.4,1324.1 1445.7,1305.8 1445.9,1342.2 1446.1,1315.6 1446.4,1332.4 1446.6,1306.6 1446.9,1334.9 1447.1,1300.9 1447.4,1328.7 1447.6,1300.7 1447.8,1331.9 1448.1,1313.5 1448.3,1328.7 1448.6,1297.5 1448.8,1330.6 1449.1,1293.5 1449.3,1323.7 1449.5,1300.6 1449.8,1281.8 1450.0,1333.2 1450.3,1285.3 1450.5,1328.9 1450.8,1284.0 1451.0,1322.6 1451.2,1282.8 1451.5,1325.8 1451.7,1288.9 1452.0,1306.0 1452.2,1287.0 1452.5,1334.7 1452.7,1288.7 1452.9,1324.9 1453.2,1288.5 1453.4,1338.2 1453.7,1301.6 1453.9,1332.8 1454.2,1289.7 1454.4,1320.5 1454.6,1291.5 1454.9,1342.1 1455.1,1300.4 1455.4,1339.9 1455.6,1309.6 1455.8,1347.4 1456.1,1306.9 1456.3,1348.7 1456.6,1297.0 1456.8,1335.5 1457.1,1314.2 1457.3,1352.5 1457.5,1299.0 1457.8,1353.1 1458.0,1309.3 1458.3,1355.8 1458.5,1326.3 1458.8,1357.3 1459.0,1317.9 1459.2,1336.8 1459.5,1307.9 1459.7,1337.1 1460.0,1306.1 1460.2,1340.0 1460.5,1315.6 1460.7,1337.1 1460.9,1324.8 1461.2,1341.3 1461.4,1329.0 1461.7,1358.7 1461.9,1312.1 1462.2,1359.6 1462.4,1326.8 1462.6,1352.9 1462.9,1320.9 1463.1,1354.1 1463.4,1317.2 1463.6,1338.2 1463.9,1324.6 1464.1,1351.2 1464.3,1322.9 1464.6,1340.1 1464.8,1322.4 1465.1,1352.5 1465.3,1331.2 1465.6,1359.3 1465.8,1317.8 1466.0,1350.3 1466.3,1346.9 1466.5,1359.2 1466.8,1356.7 1467.0,1360.3 1467.7,1361.0 1468.5,1364.6 1469.2,1369.6 1469.9,1371.1 1470.7,1372.6 1471.4,1374.0 1472.1,1375.5 1472.8,1376.9 1473.6,1378.4 1474.3,1379.8 1475.0,1381.3 1475.8,1382.8 1476.5,1383.6 1477.2,1383.3 1477.9,1382.9 1478.7,1382.5 1479.4,1382.2 1480.1,1381.8 1480.8,1381.5 1481.6,1381.1 1482.3,1380.7 1483.0,1380.4 1483.8,1380.0 1484.5,1380.2 1485.2,1380.4 1485.9,1380.5 1486.7,1380.7 1487.4,1380.9 1488.1,1381.1 1488.9,1381.3 1489.6,1381.5 1490.3,1381.6 1491.0,1381.8 1491.8,1382.1 1492.5,1382.5 1493.2,1382.9 1494.0,1383.2 1494.7,1383.6 1495.4,1382.9 1496.1,1381.5 1496.9,1380.0 1497.6,1378.6 1498.3,1378.6 1499.1,1379.4 1499.8,1380.2 1500.5,1381.6 1501.2,1383.1 1502.0,1384.6 1502.7,1386.0 1503.4,1387.5 1504.1,1388.9 1504.9,1390.4 1505.6,1391.9 1506.3,1393.7 1507.1,1395.4 1507.8,1397.2 1508.5,1398.9 1509.2,1400.2 1583.5,1400.2 1584.0,1400.2" stroke="#55a868" stroke-width="3.375"/>
<path d="M186.0,1400.2 244.2,1400.2 258.8,1396.9 273.4,1374.4 287.9,1340.6 302.5,1306.9 317.1,1287.2 331.6,1279.7 346.2,1279.7 360.8,1279.7 375.3,1282.5 389.9,1290.0 404.4,1305.0 419.0,1335.0 433.6,1368.8 448.1,1393.1 462.7,1400.2 540.0,1400.2" stroke="#c44e52" stroke-width="6.75" stroke-dasharray="24.97 10.80"/>
<path d="M540.0,1400.2 608.3,1400.2 622.9,1381.9 637.4,1353.8 652.0,1342.5 666.6,1342.5 681.1,1353.8 695.7,1282.5 710.2,1279.7 724.8,1279.7 739.4,1288.1 753.9,1335.0 768.5,1380.0 783.1,1389.4 797.6,1395.0 812.2,1400.2 902.0,1400.2" stroke="#c44e52" stroke-width="6.75" stroke-dasharray="24.97 10.80" stroke-dashoffset="24.97"/>
<path d="M902.0,1400.2 943.2,1400.2 957.8,1400.2 972.4,1378.1 986.9,1351.9 1001.5,1312.5 1016.1,1301.2 1030.6,1312.5 1045.2,1282.5 1059.8,1350.0 1074.3,1383.8 1088.9,1387.5 1103.4,1331.2 1118.0,1342.5 1132.6,1374.4 1147.1,1391.2 1161.7,1400.2 1266.1,1400.2" stroke="#c44e52" stroke-width="6.75" stroke-dasharray="24.97 10.80" stroke-dashoffset="24.97"/>
<path d="M1266.1,1400.2 1292.8,1400.2 1307.3,1400.2 1321.9,1380.0 1336.4,1363.1 1351.0,1325.6 1365.6,1299.4 1380.1,1316.2 1394.7,1305.9 1409.2,1314.4 1423.8,1318.1 1438.4,1323.8 1452.9,1335.0 1467.5,1372.5 1482.1,1383.8 1496.6,1391.2 1511.2,1400.2 1584.0,1400.2" stroke="#c44e52" stroke-width="6.75" stroke-dasharray="24.97 10.80" stroke-dashoffset="24.97"/>
<line x1="186" x2="1584" y1="1279.8" y2="1279.8" stroke="#222" stroke-width="3.375" stroke-dasharray="12.49 5.4"/>
</g>
<g font-size="37.1" text-anchor="end">
<text transform="translate(162,1414.4) scale(1,1)">0</text>
<text transform="translate(162,1323.8) scale(1,1)">200</text>
<text transform="translate(162,1231.9) scale(1,1)">400</text>
<text transform="translate(162,1140.1) scale(1,1)">600</text>
<text transform="translate(162,1048.2) scale(1,1)">800</text>
<text transform="translate(162,956.3) scale(1,1)">1000</text>
<text transform="translate(162,864.4) scale(1,1)">1200</text>
</g>
<g font-size="37.1" text-anchor="middle">
<text transform="translate(186.0,1448.7) scale(1,1)">10</text>
<text transform="translate(535.5,1448.7) scale(1,1)">11</text>
<text transform="translate(885.0,1448.7) scale(1,1)">12</text>
<text transform="translate(1234.5,1448.7) scale(1,1)">13</text>
<text transform="translate(185,1487.8) scale(1,1)">Jul</text><text transform="translate(186,1528.2) scale(1,1)">2017</text>
</g>
<text x="883" y="815" font-size="40.5" text-anchor="middle">Predicted PV output with 1-minute and 1-hour input GHI</text>
<text x="883" y="1574" font-size="40.5" text-anchor="middle">Date &amp; time</text>
<text transform="translate(53,1371.2) rotate(-90)" font-size="40.5">GHI [<tspan class="m" dx="1" font-size="40.5">W/m</tspan><tspan class="r" dx="2" dy="-15.5" font-size="28.4">2</tspan><tspan dx="-4.4" dy="15.5">],</tspan><tspan dx="-4.4" letter-spacing="0.27"> PV output [kW]</tspan></text>
<rect x="740.5" y="845.5" width="288" height="253" rx="5" ry="5" fill="#eaeaf2" fill-opacity="0.8" stroke="#ccc" stroke-opacity="0.8" stroke-width="1.6"/>
<line x1="751" x2="829" y1="879.0" y2="879.0" stroke="#4c72b0" stroke-width="3.375"/>
<text class="m" x="861" y="891.3" font-size="35.5">GHI<tspan class="r" dx="2.5" dy="4.5" font-size="25.3">1−</tspan><tspan font-size="25.3">min</tspan></text>
<line x1="751" x2="829" y1="939.6" y2="939.6" stroke="#dd8452" stroke-width="6.75" stroke-dasharray="24.97 10.8"/>
<text class="m" x="861" y="951.9" font-size="35.5">GHI<tspan class="r" dx="2.5" dy="4.5" font-size="25.3">1−</tspan><tspan font-size="25.3">hr</tspan></text>
<line x1="751" x2="829" y1="1000.2" y2="1000.2" stroke="#55a868" stroke-width="3.375"/>
<text class="m" x="861" y="1012.5" font-size="35.5">PV<tspan class="r" dx="2.5" dy="4.5" font-size="25.3">1−</tspan><tspan font-size="25.3">min</tspan></text>
<line x1="751" x2="829" y1="1060.8" y2="1060.8" stroke="#c44e52" stroke-width="6.75" stroke-dasharray="24.97 10.8"/>
<text class="m" x="861" y="1073.1" font-size="35.5">PV<tspan class="r" dx="2.5" dy="4.5" font-size="25.3">1−</tspan><tspan font-size="25.3">hr</tspan></text>
</svg></body></html>
